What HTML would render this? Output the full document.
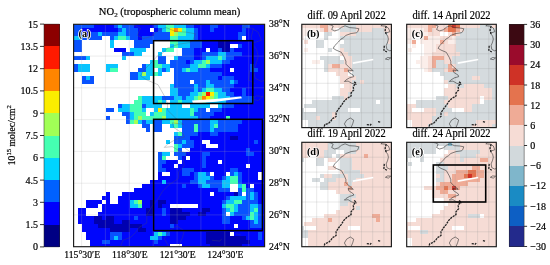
<!DOCTYPE html>
<html><head><meta charset="utf-8"><title>NO2 figure</title>
<style>html,body{margin:0;padding:0;background:#fff;}body{width:550px;height:265px;overflow:hidden;}.t{stroke:#000;stroke-width:.2px}</style></head>
<body>
<svg width="550" height="265" viewBox="0 0 550 265" style="display:block">
<rect width="550" height="265" fill="#fff"/>
<defs>
<clipPath id="cm"><rect x="73.6" y="24.3" width="191.0" height="222.4"/></clipPath>
<clipPath id="cb"><rect x="301.8" y="24.3" width="89.6" height="103.3"/></clipPath>
<clipPath id="cc"><rect x="406.7" y="24.3" width="89.6" height="103.3"/></clipPath>
<clipPath id="cd"><rect x="301.8" y="142.3" width="89.6" height="104.4"/></clipPath>
<clipPath id="ce"><rect x="406.7" y="142.3" width="89.6" height="104.4"/></clipPath>
</defs>
<g clip-path="url(#cm)" shape-rendering="crispEdges">
<rect x="74.0" y="24.0" width="20.3" height="4.3" fill="#0852ff"/>
<rect x="94.0" y="24.0" width="20.3" height="4.3" fill="#0006fc"/>
<rect x="114.0" y="24.0" width="4.3" height="4.3" fill="#0852ff"/>
<rect x="118.0" y="24.0" width="4.3" height="4.3" fill="#08c4ff"/>
<rect x="122.0" y="24.0" width="12.3" height="4.3" fill="#0852ff"/>
<rect x="134.0" y="24.0" width="20.3" height="4.3" fill="#0006fc"/>
<rect x="154.0" y="24.0" width="4.3" height="4.3" fill="#0852ff"/>
<rect x="158.0" y="24.0" width="8.3" height="4.3" fill="#08c4ff"/>
<rect x="166.0" y="24.0" width="8.3" height="4.3" fill="#45ffb2"/>
<rect x="174.0" y="24.0" width="12.3" height="4.3" fill="#08c4ff"/>
<rect x="186.0" y="24.0" width="8.3" height="4.3" fill="#0852ff"/>
<rect x="194.0" y="24.0" width="16.3" height="4.3" fill="#0006fc"/>
<rect x="210.0" y="24.0" width="8.3" height="4.3" fill="#0852ff"/>
<rect x="218.0" y="24.0" width="24.3" height="4.3" fill="#0006fc"/>
<rect x="242.0" y="24.0" width="8.3" height="4.3" fill="#0852ff"/>
<rect x="250.0" y="24.0" width="16.3" height="4.3" fill="#0006fc"/>
<rect x="74.0" y="28.0" width="8.3" height="4.3" fill="#0852ff"/>
<rect x="82.0" y="28.0" width="36.3" height="4.3" fill="#0006fc"/>
<rect x="118.0" y="28.0" width="4.3" height="4.3" fill="#0852ff"/>
<rect x="122.0" y="28.0" width="4.3" height="4.3" fill="#08c4ff"/>
<rect x="126.0" y="28.0" width="12.3" height="4.3" fill="#0852ff"/>
<rect x="138.0" y="28.0" width="12.3" height="4.3" fill="#0006fc"/>
<rect x="154.0" y="28.0" width="4.3" height="4.3" fill="#0006fc"/>
<rect x="158.0" y="28.0" width="4.3" height="4.3" fill="#0852ff"/>
<rect x="162.0" y="28.0" width="4.3" height="4.3" fill="#08c4ff"/>
<rect x="166.0" y="28.0" width="4.3" height="4.3" fill="#45ffb2"/>
<rect x="170.0" y="28.0" width="4.3" height="4.3" fill="#fbed00"/>
<rect x="174.0" y="28.0" width="4.3" height="4.3" fill="#ff8500"/>
<rect x="178.0" y="28.0" width="4.3" height="4.3" fill="#fbed00"/>
<rect x="182.0" y="28.0" width="4.3" height="4.3" fill="#45ffb2"/>
<rect x="186.0" y="28.0" width="8.3" height="4.3" fill="#08c4ff"/>
<rect x="194.0" y="28.0" width="4.3" height="4.3" fill="#0852ff"/>
<rect x="198.0" y="28.0" width="12.3" height="4.3" fill="#0006fc"/>
<rect x="210.0" y="28.0" width="4.3" height="4.3" fill="#0852ff"/>
<rect x="214.0" y="28.0" width="28.3" height="4.3" fill="#0006fc"/>
<rect x="242.0" y="28.0" width="4.3" height="4.3" fill="#0852ff"/>
<rect x="246.0" y="28.0" width="20.3" height="4.3" fill="#0006fc"/>
<rect x="74.0" y="32.0" width="8.3" height="4.3" fill="#0852ff"/>
<rect x="82.0" y="32.0" width="8.3" height="4.3" fill="#0006fc"/>
<rect x="90.0" y="32.0" width="8.3" height="4.3" fill="#0852ff"/>
<rect x="98.0" y="32.0" width="4.3" height="4.3" fill="#08c4ff"/>
<rect x="102.0" y="32.0" width="16.3" height="4.3" fill="#0852ff"/>
<rect x="118.0" y="32.0" width="8.3" height="4.3" fill="#08c4ff"/>
<rect x="126.0" y="32.0" width="12.3" height="4.3" fill="#0852ff"/>
<rect x="138.0" y="32.0" width="16.3" height="4.3" fill="#0006fc"/>
<rect x="154.0" y="32.0" width="16.3" height="4.3" fill="#0852ff"/>
<rect x="170.0" y="32.0" width="4.3" height="4.3" fill="#fbed00"/>
<rect x="174.0" y="32.0" width="4.3" height="4.3" fill="#a1ff56"/>
<rect x="178.0" y="32.0" width="8.3" height="4.3" fill="#45ffb2"/>
<rect x="186.0" y="32.0" width="8.3" height="4.3" fill="#08c4ff"/>
<rect x="194.0" y="32.0" width="4.3" height="4.3" fill="#0852ff"/>
<rect x="198.0" y="32.0" width="40.3" height="4.3" fill="#0006fc"/>
<rect x="238.0" y="32.0" width="8.3" height="4.3" fill="#0852ff"/>
<rect x="246.0" y="32.0" width="20.3" height="4.3" fill="#0006fc"/>
<rect x="74.0" y="36.0" width="8.3" height="4.3" fill="#08c4ff"/>
<rect x="82.0" y="36.0" width="20.3" height="4.3" fill="#0852ff"/>
<rect x="110.0" y="36.0" width="4.3" height="4.3" fill="#0852ff"/>
<rect x="114.0" y="36.0" width="4.3" height="4.3" fill="#08c4ff"/>
<rect x="118.0" y="36.0" width="8.3" height="4.3" fill="#45ffb2"/>
<rect x="126.0" y="36.0" width="4.3" height="4.3" fill="#08c4ff"/>
<rect x="130.0" y="36.0" width="8.3" height="4.3" fill="#0852ff"/>
<rect x="138.0" y="36.0" width="4.3" height="4.3" fill="#0006fc"/>
<rect x="142.0" y="36.0" width="28.3" height="4.3" fill="#0852ff"/>
<rect x="170.0" y="36.0" width="8.3" height="4.3" fill="#45ffb2"/>
<rect x="178.0" y="36.0" width="16.3" height="4.3" fill="#08c4ff"/>
<rect x="194.0" y="36.0" width="4.3" height="4.3" fill="#0852ff"/>
<rect x="198.0" y="36.0" width="40.3" height="4.3" fill="#0006fc"/>
<rect x="238.0" y="36.0" width="4.3" height="4.3" fill="#0852ff"/>
<rect x="246.0" y="36.0" width="20.3" height="4.3" fill="#0006fc"/>
<rect x="74.0" y="40.0" width="8.3" height="4.3" fill="#0852ff"/>
<rect x="110.0" y="40.0" width="4.3" height="4.3" fill="#08c4ff"/>
<rect x="134.0" y="40.0" width="20.3" height="4.3" fill="#0852ff"/>
<rect x="170.0" y="40.0" width="8.3" height="4.3" fill="#45ffb2"/>
<rect x="178.0" y="40.0" width="12.3" height="4.3" fill="#08c4ff"/>
<rect x="190.0" y="40.0" width="12.3" height="4.3" fill="#0852ff"/>
<rect x="202.0" y="40.0" width="16.3" height="4.3" fill="#0006fc"/>
<rect x="218.0" y="40.0" width="12.3" height="4.3" fill="#0000b0"/>
<rect x="230.0" y="40.0" width="36.3" height="4.3" fill="#0006fc"/>
<rect x="74.0" y="44.0" width="8.3" height="4.3" fill="#0852ff"/>
<rect x="110.0" y="44.0" width="4.3" height="4.3" fill="#08c4ff"/>
<rect x="134.0" y="44.0" width="16.3" height="4.3" fill="#0852ff"/>
<rect x="170.0" y="44.0" width="4.3" height="4.3" fill="#08c4ff"/>
<rect x="174.0" y="44.0" width="4.3" height="4.3" fill="#45ffb2"/>
<rect x="178.0" y="44.0" width="12.3" height="4.3" fill="#08c4ff"/>
<rect x="190.0" y="44.0" width="12.3" height="4.3" fill="#0852ff"/>
<rect x="202.0" y="44.0" width="16.3" height="4.3" fill="#0006fc"/>
<rect x="218.0" y="44.0" width="12.3" height="4.3" fill="#0000b0"/>
<rect x="238.0" y="44.0" width="4.3" height="4.3" fill="#0852ff"/>
<rect x="242.0" y="44.0" width="24.3" height="4.3" fill="#0006fc"/>
<rect x="74.0" y="48.0" width="8.3" height="4.3" fill="#0852ff"/>
<rect x="114.0" y="48.0" width="12.3" height="4.3" fill="#0006fc"/>
<rect x="130.0" y="48.0" width="16.3" height="4.3" fill="#08c4ff"/>
<rect x="162.0" y="48.0" width="4.3" height="4.3" fill="#08c4ff"/>
<rect x="166.0" y="48.0" width="8.3" height="4.3" fill="#45ffb2"/>
<rect x="182.0" y="48.0" width="12.3" height="4.3" fill="#0852ff"/>
<rect x="194.0" y="48.0" width="12.3" height="4.3" fill="#0006fc"/>
<rect x="210.0" y="48.0" width="8.3" height="4.3" fill="#0006fc"/>
<rect x="218.0" y="48.0" width="4.3" height="4.3" fill="#0852ff"/>
<rect x="222.0" y="48.0" width="8.3" height="4.3" fill="#0000b0"/>
<rect x="230.0" y="48.0" width="4.3" height="4.3" fill="#0852ff"/>
<rect x="234.0" y="48.0" width="32.3" height="4.3" fill="#0006fc"/>
<rect x="122.0" y="52.0" width="12.3" height="4.3" fill="#0852ff"/>
<rect x="134.0" y="52.0" width="8.3" height="4.3" fill="#08c4ff"/>
<rect x="158.0" y="52.0" width="4.3" height="4.3" fill="#08c4ff"/>
<rect x="182.0" y="52.0" width="12.3" height="4.3" fill="#0852ff"/>
<rect x="194.0" y="52.0" width="8.3" height="4.3" fill="#0006fc"/>
<rect x="202.0" y="52.0" width="16.3" height="4.3" fill="#0852ff"/>
<rect x="218.0" y="52.0" width="8.3" height="4.3" fill="#08c4ff"/>
<rect x="226.0" y="52.0" width="16.3" height="4.3" fill="#0852ff"/>
<rect x="242.0" y="52.0" width="24.3" height="4.3" fill="#0006fc"/>
<rect x="74.0" y="56.0" width="12.3" height="4.3" fill="#0852ff"/>
<rect x="86.0" y="56.0" width="4.3" height="4.3" fill="#08c4ff"/>
<rect x="122.0" y="56.0" width="4.3" height="4.3" fill="#08c4ff"/>
<rect x="158.0" y="56.0" width="8.3" height="4.3" fill="#0852ff"/>
<rect x="174.0" y="56.0" width="4.3" height="4.3" fill="#08c4ff"/>
<rect x="178.0" y="56.0" width="16.3" height="4.3" fill="#0852ff"/>
<rect x="194.0" y="56.0" width="8.3" height="4.3" fill="#0006fc"/>
<rect x="202.0" y="56.0" width="4.3" height="4.3" fill="#0852ff"/>
<rect x="206.0" y="56.0" width="12.3" height="4.3" fill="#08c4ff"/>
<rect x="218.0" y="56.0" width="4.3" height="4.3" fill="#45ffb2"/>
<rect x="222.0" y="56.0" width="4.3" height="4.3" fill="#08c4ff"/>
<rect x="226.0" y="56.0" width="8.3" height="4.3" fill="#0852ff"/>
<rect x="234.0" y="56.0" width="32.3" height="4.3" fill="#0006fc"/>
<rect x="150.0" y="60.0" width="4.3" height="4.3" fill="#08c4ff"/>
<rect x="154.0" y="60.0" width="4.3" height="4.3" fill="#45ffb2"/>
<rect x="158.0" y="60.0" width="8.3" height="4.3" fill="#0852ff"/>
<rect x="170.0" y="60.0" width="16.3" height="4.3" fill="#0852ff"/>
<rect x="186.0" y="60.0" width="4.3" height="4.3" fill="#0006fc"/>
<rect x="190.0" y="60.0" width="4.3" height="4.3" fill="#0852ff"/>
<rect x="194.0" y="60.0" width="8.3" height="4.3" fill="#08c4ff"/>
<rect x="202.0" y="60.0" width="4.3" height="4.3" fill="#45ffb2"/>
<rect x="206.0" y="60.0" width="4.3" height="4.3" fill="#a1ff56"/>
<rect x="210.0" y="60.0" width="12.3" height="4.3" fill="#08c4ff"/>
<rect x="222.0" y="60.0" width="8.3" height="4.3" fill="#0852ff"/>
<rect x="230.0" y="60.0" width="36.3" height="4.3" fill="#0006fc"/>
<rect x="74.0" y="64.0" width="4.3" height="4.3" fill="#0852ff"/>
<rect x="78.0" y="64.0" width="12.3" height="4.3" fill="#08c4ff"/>
<rect x="106.0" y="64.0" width="12.3" height="4.3" fill="#08c4ff"/>
<rect x="142.0" y="64.0" width="4.3" height="4.3" fill="#0852ff"/>
<rect x="146.0" y="64.0" width="8.3" height="4.3" fill="#08c4ff"/>
<rect x="154.0" y="64.0" width="8.3" height="4.3" fill="#45ffb2"/>
<rect x="162.0" y="64.0" width="8.3" height="4.3" fill="#08c4ff"/>
<rect x="170.0" y="64.0" width="20.3" height="4.3" fill="#0852ff"/>
<rect x="190.0" y="64.0" width="8.3" height="4.3" fill="#08c4ff"/>
<rect x="198.0" y="64.0" width="8.3" height="4.3" fill="#45ffb2"/>
<rect x="206.0" y="64.0" width="4.3" height="4.3" fill="#08c4ff"/>
<rect x="210.0" y="64.0" width="12.3" height="4.3" fill="#0852ff"/>
<rect x="222.0" y="64.0" width="28.3" height="4.3" fill="#0006fc"/>
<rect x="250.0" y="64.0" width="4.3" height="4.3" fill="#0852ff"/>
<rect x="254.0" y="64.0" width="12.3" height="4.3" fill="#0006fc"/>
<rect x="74.0" y="68.0" width="4.3" height="4.3" fill="#0852ff"/>
<rect x="78.0" y="68.0" width="12.3" height="4.3" fill="#08c4ff"/>
<rect x="106.0" y="68.0" width="4.3" height="4.3" fill="#08c4ff"/>
<rect x="110.0" y="68.0" width="8.3" height="4.3" fill="#45ffb2"/>
<rect x="138.0" y="68.0" width="8.3" height="4.3" fill="#0852ff"/>
<rect x="146.0" y="68.0" width="8.3" height="4.3" fill="#08c4ff"/>
<rect x="158.0" y="68.0" width="4.3" height="4.3" fill="#08c4ff"/>
<rect x="162.0" y="68.0" width="4.3" height="4.3" fill="#0852ff"/>
<rect x="166.0" y="68.0" width="4.3" height="4.3" fill="#08c4ff"/>
<rect x="174.0" y="68.0" width="8.3" height="4.3" fill="#0852ff"/>
<rect x="182.0" y="68.0" width="4.3" height="4.3" fill="#08c4ff"/>
<rect x="186.0" y="68.0" width="4.3" height="4.3" fill="#45ffb2"/>
<rect x="190.0" y="68.0" width="8.3" height="4.3" fill="#08c4ff"/>
<rect x="198.0" y="68.0" width="12.3" height="4.3" fill="#0852ff"/>
<rect x="210.0" y="68.0" width="20.3" height="4.3" fill="#0006fc"/>
<rect x="234.0" y="68.0" width="16.3" height="4.3" fill="#0006fc"/>
<rect x="250.0" y="68.0" width="8.3" height="4.3" fill="#0852ff"/>
<rect x="258.0" y="68.0" width="8.3" height="4.3" fill="#0006fc"/>
<rect x="130.0" y="72.0" width="8.3" height="4.3" fill="#0852ff"/>
<rect x="138.0" y="72.0" width="4.3" height="4.3" fill="#08c4ff"/>
<rect x="142.0" y="72.0" width="4.3" height="4.3" fill="#a1ff56"/>
<rect x="146.0" y="72.0" width="8.3" height="4.3" fill="#08c4ff"/>
<rect x="154.0" y="72.0" width="4.3" height="4.3" fill="#45ffb2"/>
<rect x="158.0" y="72.0" width="4.3" height="4.3" fill="#08c4ff"/>
<rect x="174.0" y="72.0" width="48.3" height="4.3" fill="#0852ff"/>
<rect x="222.0" y="72.0" width="44.3" height="4.3" fill="#0006fc"/>
<rect x="82.0" y="76.0" width="4.3" height="4.3" fill="#0852ff"/>
<rect x="86.0" y="76.0" width="4.3" height="4.3" fill="#08c4ff"/>
<rect x="90.0" y="76.0" width="4.3" height="4.3" fill="#0852ff"/>
<rect x="130.0" y="76.0" width="8.3" height="4.3" fill="#0852ff"/>
<rect x="138.0" y="76.0" width="12.3" height="4.3" fill="#08c4ff"/>
<rect x="174.0" y="76.0" width="44.3" height="4.3" fill="#0852ff"/>
<rect x="218.0" y="76.0" width="4.3" height="4.3" fill="#0006fc"/>
<rect x="222.0" y="76.0" width="12.3" height="4.3" fill="#0852ff"/>
<rect x="234.0" y="76.0" width="32.3" height="4.3" fill="#0006fc"/>
<rect x="82.0" y="80.0" width="12.3" height="4.3" fill="#0852ff"/>
<rect x="174.0" y="80.0" width="16.3" height="4.3" fill="#0852ff"/>
<rect x="194.0" y="80.0" width="12.3" height="4.3" fill="#0852ff"/>
<rect x="206.0" y="80.0" width="4.3" height="4.3" fill="#08c4ff"/>
<rect x="210.0" y="80.0" width="20.3" height="4.3" fill="#0852ff"/>
<rect x="230.0" y="80.0" width="4.3" height="4.3" fill="#08c4ff"/>
<rect x="234.0" y="80.0" width="4.3" height="4.3" fill="#0852ff"/>
<rect x="238.0" y="80.0" width="28.3" height="4.3" fill="#0006fc"/>
<rect x="170.0" y="84.0" width="4.3" height="4.3" fill="#08c4ff"/>
<rect x="174.0" y="84.0" width="20.3" height="4.3" fill="#0852ff"/>
<rect x="194.0" y="84.0" width="4.3" height="4.3" fill="#08c4ff"/>
<rect x="198.0" y="84.0" width="8.3" height="4.3" fill="#0852ff"/>
<rect x="206.0" y="84.0" width="8.3" height="4.3" fill="#08c4ff"/>
<rect x="214.0" y="84.0" width="20.3" height="4.3" fill="#0852ff"/>
<rect x="234.0" y="84.0" width="32.3" height="4.3" fill="#0006fc"/>
<rect x="170.0" y="88.0" width="8.3" height="4.3" fill="#08c4ff"/>
<rect x="178.0" y="88.0" width="16.3" height="4.3" fill="#0852ff"/>
<rect x="194.0" y="88.0" width="4.3" height="4.3" fill="#08c4ff"/>
<rect x="198.0" y="88.0" width="4.3" height="4.3" fill="#0852ff"/>
<rect x="202.0" y="88.0" width="4.3" height="4.3" fill="#08c4ff"/>
<rect x="206.0" y="88.0" width="8.3" height="4.3" fill="#45ffb2"/>
<rect x="214.0" y="88.0" width="8.3" height="4.3" fill="#08c4ff"/>
<rect x="222.0" y="88.0" width="8.3" height="4.3" fill="#0852ff"/>
<rect x="230.0" y="88.0" width="12.3" height="4.3" fill="#0006fc"/>
<rect x="242.0" y="88.0" width="4.3" height="4.3" fill="#0852ff"/>
<rect x="246.0" y="88.0" width="20.3" height="4.3" fill="#0006fc"/>
<rect x="170.0" y="92.0" width="8.3" height="4.3" fill="#08c4ff"/>
<rect x="178.0" y="92.0" width="12.3" height="4.3" fill="#0852ff"/>
<rect x="190.0" y="92.0" width="8.3" height="4.3" fill="#08c4ff"/>
<rect x="198.0" y="92.0" width="4.3" height="4.3" fill="#45ffb2"/>
<rect x="202.0" y="92.0" width="4.3" height="4.3" fill="#a1ff56"/>
<rect x="206.0" y="92.0" width="4.3" height="4.3" fill="#ff1a00"/>
<rect x="210.0" y="92.0" width="4.3" height="4.3" fill="#fbed00"/>
<rect x="214.0" y="92.0" width="4.3" height="4.3" fill="#45ffb2"/>
<rect x="218.0" y="92.0" width="8.3" height="4.3" fill="#08c4ff"/>
<rect x="226.0" y="92.0" width="8.3" height="4.3" fill="#0852ff"/>
<rect x="234.0" y="92.0" width="8.3" height="4.3" fill="#0006fc"/>
<rect x="242.0" y="92.0" width="4.3" height="4.3" fill="#0852ff"/>
<rect x="246.0" y="92.0" width="20.3" height="4.3" fill="#0006fc"/>
<rect x="138.0" y="96.0" width="4.3" height="4.3" fill="#45ffb2"/>
<rect x="142.0" y="96.0" width="20.3" height="4.3" fill="#08c4ff"/>
<rect x="162.0" y="96.0" width="12.3" height="4.3" fill="#0852ff"/>
<rect x="174.0" y="96.0" width="8.3" height="4.3" fill="#08c4ff"/>
<rect x="182.0" y="96.0" width="4.3" height="4.3" fill="#0852ff"/>
<rect x="186.0" y="96.0" width="8.3" height="4.3" fill="#08c4ff"/>
<rect x="194.0" y="96.0" width="4.3" height="4.3" fill="#45ffb2"/>
<rect x="198.0" y="96.0" width="4.3" height="4.3" fill="#a1ff56"/>
<rect x="202.0" y="96.0" width="4.3" height="4.3" fill="#ff8500"/>
<rect x="206.0" y="96.0" width="4.3" height="4.3" fill="#fbed00"/>
<rect x="210.0" y="96.0" width="4.3" height="4.3" fill="#a1ff56"/>
<rect x="214.0" y="96.0" width="4.3" height="4.3" fill="#45ffb2"/>
<rect x="218.0" y="96.0" width="12.3" height="4.3" fill="#08c4ff"/>
<rect x="230.0" y="96.0" width="24.3" height="4.3" fill="#0852ff"/>
<rect x="254.0" y="96.0" width="12.3" height="4.3" fill="#0006fc"/>
<rect x="134.0" y="100.0" width="8.3" height="4.3" fill="#45ffb2"/>
<rect x="142.0" y="100.0" width="16.3" height="4.3" fill="#08c4ff"/>
<rect x="158.0" y="100.0" width="4.3" height="4.3" fill="#45ffb2"/>
<rect x="162.0" y="100.0" width="4.3" height="4.3" fill="#08c4ff"/>
<rect x="170.0" y="100.0" width="8.3" height="4.3" fill="#08c4ff"/>
<rect x="178.0" y="100.0" width="4.3" height="4.3" fill="#45ffb2"/>
<rect x="182.0" y="100.0" width="12.3" height="4.3" fill="#08c4ff"/>
<rect x="194.0" y="100.0" width="12.3" height="4.3" fill="#45ffb2"/>
<rect x="206.0" y="100.0" width="20.3" height="4.3" fill="#08c4ff"/>
<rect x="226.0" y="100.0" width="28.3" height="4.3" fill="#0852ff"/>
<rect x="254.0" y="100.0" width="12.3" height="4.3" fill="#0006fc"/>
<rect x="118.0" y="104.0" width="4.3" height="4.3" fill="#0852ff"/>
<rect x="122.0" y="104.0" width="8.3" height="4.3" fill="#08c4ff"/>
<rect x="130.0" y="104.0" width="12.3" height="4.3" fill="#45ffb2"/>
<rect x="142.0" y="104.0" width="4.3" height="4.3" fill="#0852ff"/>
<rect x="146.0" y="104.0" width="16.3" height="4.3" fill="#08c4ff"/>
<rect x="170.0" y="104.0" width="12.3" height="4.3" fill="#08c4ff"/>
<rect x="190.0" y="104.0" width="20.3" height="4.3" fill="#08c4ff"/>
<rect x="218.0" y="104.0" width="4.3" height="4.3" fill="#08c4ff"/>
<rect x="222.0" y="104.0" width="12.3" height="4.3" fill="#0852ff"/>
<rect x="234.0" y="104.0" width="32.3" height="4.3" fill="#0006fc"/>
<rect x="106.0" y="108.0" width="8.3" height="4.3" fill="#0852ff"/>
<rect x="118.0" y="108.0" width="12.3" height="4.3" fill="#08c4ff"/>
<rect x="130.0" y="108.0" width="12.3" height="4.3" fill="#45ffb2"/>
<rect x="142.0" y="108.0" width="4.3" height="4.3" fill="#08c4ff"/>
<rect x="154.0" y="108.0" width="4.3" height="4.3" fill="#08c4ff"/>
<rect x="158.0" y="108.0" width="4.3" height="4.3" fill="#fbed00"/>
<rect x="162.0" y="108.0" width="4.3" height="4.3" fill="#45ffb2"/>
<rect x="166.0" y="108.0" width="24.3" height="4.3" fill="#08c4ff"/>
<rect x="190.0" y="108.0" width="4.3" height="4.3" fill="#45ffb2"/>
<rect x="194.0" y="108.0" width="4.3" height="4.3" fill="#08c4ff"/>
<rect x="198.0" y="108.0" width="8.3" height="4.3" fill="#0852ff"/>
<rect x="210.0" y="108.0" width="12.3" height="4.3" fill="#0852ff"/>
<rect x="222.0" y="108.0" width="44.3" height="4.3" fill="#0006fc"/>
<rect x="122.0" y="112.0" width="8.3" height="4.3" fill="#0852ff"/>
<rect x="130.0" y="112.0" width="4.3" height="4.3" fill="#08c4ff"/>
<rect x="134.0" y="112.0" width="12.3" height="4.3" fill="#45ffb2"/>
<rect x="150.0" y="112.0" width="4.3" height="4.3" fill="#08c4ff"/>
<rect x="154.0" y="112.0" width="12.3" height="4.3" fill="#45ffb2"/>
<rect x="166.0" y="112.0" width="24.3" height="4.3" fill="#08c4ff"/>
<rect x="190.0" y="112.0" width="4.3" height="4.3" fill="#45ffb2"/>
<rect x="194.0" y="112.0" width="20.3" height="4.3" fill="#0852ff"/>
<rect x="214.0" y="112.0" width="52.3" height="4.3" fill="#0006fc"/>
<rect x="106.0" y="116.0" width="4.3" height="4.3" fill="#0852ff"/>
<rect x="126.0" y="116.0" width="4.3" height="4.3" fill="#0852ff"/>
<rect x="130.0" y="116.0" width="4.3" height="4.3" fill="#08c4ff"/>
<rect x="134.0" y="116.0" width="4.3" height="4.3" fill="#45ffb2"/>
<rect x="138.0" y="116.0" width="4.3" height="4.3" fill="#a1ff56"/>
<rect x="142.0" y="116.0" width="20.3" height="4.3" fill="#45ffb2"/>
<rect x="162.0" y="116.0" width="4.3" height="4.3" fill="#a1ff56"/>
<rect x="166.0" y="116.0" width="32.3" height="4.3" fill="#08c4ff"/>
<rect x="198.0" y="116.0" width="12.3" height="4.3" fill="#0852ff"/>
<rect x="210.0" y="116.0" width="16.3" height="4.3" fill="#0006fc"/>
<rect x="226.0" y="116.0" width="4.3" height="4.3" fill="#45ffb2"/>
<rect x="230.0" y="116.0" width="36.3" height="4.3" fill="#0006fc"/>
<rect x="126.0" y="120.0" width="4.3" height="4.3" fill="#0852ff"/>
<rect x="130.0" y="120.0" width="4.3" height="4.3" fill="#45ffb2"/>
<rect x="134.0" y="120.0" width="4.3" height="4.3" fill="#a1ff56"/>
<rect x="138.0" y="120.0" width="4.3" height="4.3" fill="#08c4ff"/>
<rect x="142.0" y="120.0" width="4.3" height="4.3" fill="#0852ff"/>
<rect x="146.0" y="120.0" width="8.3" height="4.3" fill="#08c4ff"/>
<rect x="154.0" y="120.0" width="8.3" height="4.3" fill="#0852ff"/>
<rect x="162.0" y="120.0" width="8.3" height="4.3" fill="#08c4ff"/>
<rect x="170.0" y="120.0" width="4.3" height="4.3" fill="#45ffb2"/>
<rect x="174.0" y="120.0" width="4.3" height="4.3" fill="#a1ff56"/>
<rect x="178.0" y="120.0" width="4.3" height="4.3" fill="#08c4ff"/>
<rect x="182.0" y="120.0" width="28.3" height="4.3" fill="#0852ff"/>
<rect x="210.0" y="120.0" width="8.3" height="4.3" fill="#08c4ff"/>
<rect x="218.0" y="120.0" width="24.3" height="4.3" fill="#0852ff"/>
<rect x="242.0" y="120.0" width="24.3" height="4.3" fill="#0006fc"/>
<rect x="142.0" y="124.0" width="8.3" height="4.3" fill="#0852ff"/>
<rect x="154.0" y="124.0" width="8.3" height="4.3" fill="#0852ff"/>
<rect x="170.0" y="124.0" width="4.3" height="4.3" fill="#08c4ff"/>
<rect x="174.0" y="124.0" width="4.3" height="4.3" fill="#45ffb2"/>
<rect x="178.0" y="124.0" width="4.3" height="4.3" fill="#08c4ff"/>
<rect x="182.0" y="124.0" width="12.3" height="4.3" fill="#0852ff"/>
<rect x="194.0" y="124.0" width="4.3" height="4.3" fill="#45ffb2"/>
<rect x="198.0" y="124.0" width="12.3" height="4.3" fill="#0852ff"/>
<rect x="210.0" y="124.0" width="4.3" height="4.3" fill="#08c4ff"/>
<rect x="214.0" y="124.0" width="4.3" height="4.3" fill="#45ffb2"/>
<rect x="218.0" y="124.0" width="20.3" height="4.3" fill="#0852ff"/>
<rect x="238.0" y="124.0" width="28.3" height="4.3" fill="#0006fc"/>
<rect x="146.0" y="128.0" width="4.3" height="4.3" fill="#0852ff"/>
<rect x="154.0" y="128.0" width="8.3" height="4.3" fill="#0852ff"/>
<rect x="182.0" y="128.0" width="12.3" height="4.3" fill="#0852ff"/>
<rect x="194.0" y="128.0" width="4.3" height="4.3" fill="#45ffb2"/>
<rect x="198.0" y="128.0" width="12.3" height="4.3" fill="#0852ff"/>
<rect x="210.0" y="128.0" width="4.3" height="4.3" fill="#08c4ff"/>
<rect x="214.0" y="128.0" width="24.3" height="4.3" fill="#0852ff"/>
<rect x="238.0" y="128.0" width="28.3" height="4.3" fill="#0006fc"/>
<rect x="174.0" y="132.0" width="4.3" height="4.3" fill="#08c4ff"/>
<rect x="178.0" y="132.0" width="4.3" height="4.3" fill="#45ffb2"/>
<rect x="182.0" y="132.0" width="16.3" height="4.3" fill="#0852ff"/>
<rect x="198.0" y="132.0" width="12.3" height="4.3" fill="#0006fc"/>
<rect x="210.0" y="132.0" width="8.3" height="4.3" fill="#0852ff"/>
<rect x="218.0" y="132.0" width="48.3" height="4.3" fill="#0006fc"/>
<rect x="174.0" y="136.0" width="16.3" height="4.3" fill="#0852ff"/>
<rect x="190.0" y="136.0" width="40.3" height="4.3" fill="#0006fc"/>
<rect x="230.0" y="136.0" width="8.3" height="4.3" fill="#0000b0"/>
<rect x="238.0" y="136.0" width="28.3" height="4.3" fill="#0006fc"/>
<rect x="166.0" y="140.0" width="4.3" height="4.3" fill="#08c4ff"/>
<rect x="174.0" y="140.0" width="8.3" height="4.3" fill="#0852ff"/>
<rect x="182.0" y="140.0" width="4.3" height="4.3" fill="#08c4ff"/>
<rect x="186.0" y="140.0" width="8.3" height="4.3" fill="#0852ff"/>
<rect x="194.0" y="140.0" width="8.3" height="4.3" fill="#0006fc"/>
<rect x="210.0" y="140.0" width="44.3" height="4.3" fill="#0006fc"/>
<rect x="254.0" y="140.0" width="4.3" height="4.3" fill="#0852ff"/>
<rect x="258.0" y="140.0" width="8.3" height="4.3" fill="#0006fc"/>
<rect x="174.0" y="144.0" width="4.3" height="4.3" fill="#45ffb2"/>
<rect x="178.0" y="144.0" width="4.3" height="4.3" fill="#08c4ff"/>
<rect x="182.0" y="144.0" width="12.3" height="4.3" fill="#0852ff"/>
<rect x="194.0" y="144.0" width="12.3" height="4.3" fill="#0006fc"/>
<rect x="218.0" y="144.0" width="48.3" height="4.3" fill="#0006fc"/>
<rect x="174.0" y="148.0" width="4.3" height="4.3" fill="#45ffb2"/>
<rect x="178.0" y="148.0" width="4.3" height="4.3" fill="#0852ff"/>
<rect x="190.0" y="148.0" width="56.3" height="4.3" fill="#0006fc"/>
<rect x="246.0" y="148.0" width="4.3" height="4.3" fill="#0852ff"/>
<rect x="250.0" y="148.0" width="16.3" height="4.3" fill="#0006fc"/>
<rect x="158.0" y="152.0" width="4.3" height="4.3" fill="#0852ff"/>
<rect x="162.0" y="152.0" width="8.3" height="4.3" fill="#08c4ff"/>
<rect x="174.0" y="152.0" width="12.3" height="4.3" fill="#0852ff"/>
<rect x="186.0" y="152.0" width="16.3" height="4.3" fill="#0006fc"/>
<rect x="202.0" y="152.0" width="8.3" height="4.3" fill="#0852ff"/>
<rect x="210.0" y="152.0" width="36.3" height="4.3" fill="#0006fc"/>
<rect x="246.0" y="152.0" width="8.3" height="4.3" fill="#0852ff"/>
<rect x="254.0" y="152.0" width="12.3" height="4.3" fill="#0006fc"/>
<rect x="158.0" y="156.0" width="4.3" height="4.3" fill="#0852ff"/>
<rect x="162.0" y="156.0" width="4.3" height="4.3" fill="#45ffb2"/>
<rect x="178.0" y="156.0" width="4.3" height="4.3" fill="#0852ff"/>
<rect x="182.0" y="156.0" width="4.3" height="4.3" fill="#0006fc"/>
<rect x="190.0" y="156.0" width="12.3" height="4.3" fill="#0006fc"/>
<rect x="202.0" y="156.0" width="4.3" height="4.3" fill="#0852ff"/>
<rect x="206.0" y="156.0" width="60.3" height="4.3" fill="#0006fc"/>
<rect x="158.0" y="160.0" width="8.3" height="4.3" fill="#0852ff"/>
<rect x="166.0" y="160.0" width="12.3" height="4.3" fill="#0006fc"/>
<rect x="182.0" y="160.0" width="20.3" height="4.3" fill="#0006fc"/>
<rect x="202.0" y="160.0" width="4.3" height="4.3" fill="#0852ff"/>
<rect x="206.0" y="160.0" width="12.3" height="4.3" fill="#0006fc"/>
<rect x="222.0" y="160.0" width="44.3" height="4.3" fill="#0006fc"/>
<rect x="158.0" y="164.0" width="4.3" height="4.3" fill="#0852ff"/>
<rect x="162.0" y="164.0" width="12.3" height="4.3" fill="#0006fc"/>
<rect x="178.0" y="164.0" width="24.3" height="4.3" fill="#0006fc"/>
<rect x="202.0" y="164.0" width="4.3" height="4.3" fill="#0852ff"/>
<rect x="206.0" y="164.0" width="40.3" height="4.3" fill="#0006fc"/>
<rect x="250.0" y="164.0" width="16.3" height="4.3" fill="#0006fc"/>
<rect x="158.0" y="168.0" width="8.3" height="4.3" fill="#0852ff"/>
<rect x="166.0" y="168.0" width="16.3" height="4.3" fill="#0006fc"/>
<rect x="182.0" y="168.0" width="12.3" height="4.3" fill="#0852ff"/>
<rect x="194.0" y="168.0" width="36.3" height="4.3" fill="#0006fc"/>
<rect x="230.0" y="168.0" width="8.3" height="4.3" fill="#0852ff"/>
<rect x="238.0" y="168.0" width="28.3" height="4.3" fill="#0006fc"/>
<rect x="158.0" y="172.0" width="4.3" height="4.3" fill="#0006fc"/>
<rect x="170.0" y="172.0" width="12.3" height="4.3" fill="#0006fc"/>
<rect x="182.0" y="172.0" width="8.3" height="4.3" fill="#0852ff"/>
<rect x="190.0" y="172.0" width="4.3" height="4.3" fill="#0006fc"/>
<rect x="194.0" y="172.0" width="4.3" height="4.3" fill="#0852ff"/>
<rect x="198.0" y="172.0" width="8.3" height="4.3" fill="#08c4ff"/>
<rect x="206.0" y="172.0" width="4.3" height="4.3" fill="#0852ff"/>
<rect x="214.0" y="172.0" width="12.3" height="4.3" fill="#0006fc"/>
<rect x="230.0" y="172.0" width="4.3" height="4.3" fill="#0852ff"/>
<rect x="234.0" y="172.0" width="4.3" height="4.3" fill="#08c4ff"/>
<rect x="238.0" y="172.0" width="4.3" height="4.3" fill="#0852ff"/>
<rect x="242.0" y="172.0" width="16.3" height="4.3" fill="#0006fc"/>
<rect x="262.0" y="172.0" width="4.3" height="4.3" fill="#0006fc"/>
<rect x="158.0" y="176.0" width="36.3" height="4.3" fill="#0006fc"/>
<rect x="194.0" y="176.0" width="4.3" height="4.3" fill="#0852ff"/>
<rect x="198.0" y="176.0" width="12.3" height="4.3" fill="#08c4ff"/>
<rect x="210.0" y="176.0" width="4.3" height="4.3" fill="#0852ff"/>
<rect x="214.0" y="176.0" width="8.3" height="4.3" fill="#0006fc"/>
<rect x="222.0" y="176.0" width="4.3" height="4.3" fill="#0852ff"/>
<rect x="226.0" y="176.0" width="4.3" height="4.3" fill="#08c4ff"/>
<rect x="230.0" y="176.0" width="8.3" height="4.3" fill="#45ffb2"/>
<rect x="238.0" y="176.0" width="4.3" height="4.3" fill="#0852ff"/>
<rect x="242.0" y="176.0" width="16.3" height="4.3" fill="#0006fc"/>
<rect x="262.0" y="176.0" width="4.3" height="4.3" fill="#0006fc"/>
<rect x="150.0" y="180.0" width="12.3" height="4.3" fill="#0006fc"/>
<rect x="162.0" y="180.0" width="4.3" height="4.3" fill="#08c4ff"/>
<rect x="166.0" y="180.0" width="24.3" height="4.3" fill="#0006fc"/>
<rect x="190.0" y="180.0" width="8.3" height="4.3" fill="#0852ff"/>
<rect x="198.0" y="180.0" width="8.3" height="4.3" fill="#08c4ff"/>
<rect x="206.0" y="180.0" width="16.3" height="4.3" fill="#0852ff"/>
<rect x="222.0" y="180.0" width="8.3" height="4.3" fill="#08c4ff"/>
<rect x="230.0" y="180.0" width="8.3" height="4.3" fill="#45ffb2"/>
<rect x="238.0" y="180.0" width="4.3" height="4.3" fill="#0852ff"/>
<rect x="242.0" y="180.0" width="24.3" height="4.3" fill="#0006fc"/>
<rect x="142.0" y="184.0" width="40.3" height="4.3" fill="#0006fc"/>
<rect x="182.0" y="184.0" width="4.3" height="4.3" fill="#0852ff"/>
<rect x="186.0" y="184.0" width="12.3" height="4.3" fill="#0006fc"/>
<rect x="198.0" y="184.0" width="4.3" height="4.3" fill="#0852ff"/>
<rect x="202.0" y="184.0" width="8.3" height="4.3" fill="#08c4ff"/>
<rect x="210.0" y="184.0" width="12.3" height="4.3" fill="#0852ff"/>
<rect x="222.0" y="184.0" width="8.3" height="4.3" fill="#08c4ff"/>
<rect x="238.0" y="184.0" width="4.3" height="4.3" fill="#08c4ff"/>
<rect x="242.0" y="184.0" width="4.3" height="4.3" fill="#45ffb2"/>
<rect x="246.0" y="184.0" width="4.3" height="4.3" fill="#0006fc"/>
<rect x="254.0" y="184.0" width="12.3" height="4.3" fill="#0006fc"/>
<rect x="134.0" y="188.0" width="84.3" height="4.3" fill="#0006fc"/>
<rect x="218.0" y="188.0" width="12.3" height="4.3" fill="#0852ff"/>
<rect x="238.0" y="188.0" width="4.3" height="4.3" fill="#0852ff"/>
<rect x="242.0" y="188.0" width="4.3" height="4.3" fill="#45ffb2"/>
<rect x="246.0" y="188.0" width="8.3" height="4.3" fill="#0852ff"/>
<rect x="254.0" y="188.0" width="12.3" height="4.3" fill="#0006fc"/>
<rect x="106.0" y="192.0" width="4.3" height="4.3" fill="#0006fc"/>
<rect x="122.0" y="192.0" width="88.3" height="4.3" fill="#0006fc"/>
<rect x="214.0" y="192.0" width="20.3" height="4.3" fill="#0006fc"/>
<rect x="234.0" y="192.0" width="4.3" height="4.3" fill="#0000b0"/>
<rect x="238.0" y="192.0" width="4.3" height="4.3" fill="#0852ff"/>
<rect x="246.0" y="192.0" width="4.3" height="4.3" fill="#0852ff"/>
<rect x="250.0" y="192.0" width="4.3" height="4.3" fill="#08c4ff"/>
<rect x="254.0" y="192.0" width="4.3" height="4.3" fill="#0852ff"/>
<rect x="258.0" y="192.0" width="8.3" height="4.3" fill="#0006fc"/>
<rect x="102.0" y="196.0" width="8.3" height="4.3" fill="#0006fc"/>
<rect x="118.0" y="196.0" width="108.3" height="4.3" fill="#0006fc"/>
<rect x="226.0" y="196.0" width="4.3" height="4.3" fill="#0852ff"/>
<rect x="230.0" y="196.0" width="16.3" height="4.3" fill="#08c4ff"/>
<rect x="246.0" y="196.0" width="4.3" height="4.3" fill="#0852ff"/>
<rect x="250.0" y="196.0" width="4.3" height="4.3" fill="#08c4ff"/>
<rect x="254.0" y="196.0" width="4.3" height="4.3" fill="#0852ff"/>
<rect x="258.0" y="196.0" width="8.3" height="4.3" fill="#0006fc"/>
<rect x="86.0" y="200.0" width="16.3" height="4.3" fill="#0006fc"/>
<rect x="106.0" y="200.0" width="4.3" height="4.3" fill="#0006fc"/>
<rect x="118.0" y="200.0" width="12.3" height="4.3" fill="#0006fc"/>
<rect x="130.0" y="200.0" width="4.3" height="4.3" fill="#08c4ff"/>
<rect x="134.0" y="200.0" width="4.3" height="4.3" fill="#45ffb2"/>
<rect x="138.0" y="200.0" width="4.3" height="4.3" fill="#a1ff56"/>
<rect x="142.0" y="200.0" width="8.3" height="4.3" fill="#0006fc"/>
<rect x="150.0" y="200.0" width="4.3" height="4.3" fill="#0000b0"/>
<rect x="154.0" y="200.0" width="4.3" height="4.3" fill="#0006fc"/>
<rect x="158.0" y="200.0" width="8.3" height="4.3" fill="#0000b0"/>
<rect x="166.0" y="200.0" width="56.3" height="4.3" fill="#0006fc"/>
<rect x="222.0" y="200.0" width="4.3" height="4.3" fill="#0852ff"/>
<rect x="226.0" y="200.0" width="8.3" height="4.3" fill="#08c4ff"/>
<rect x="234.0" y="200.0" width="8.3" height="4.3" fill="#45ffb2"/>
<rect x="242.0" y="200.0" width="16.3" height="4.3" fill="#0852ff"/>
<rect x="258.0" y="200.0" width="8.3" height="4.3" fill="#0006fc"/>
<rect x="86.0" y="204.0" width="12.3" height="4.3" fill="#0006fc"/>
<rect x="102.0" y="204.0" width="28.3" height="4.3" fill="#0006fc"/>
<rect x="130.0" y="204.0" width="8.3" height="4.3" fill="#08c4ff"/>
<rect x="138.0" y="204.0" width="4.3" height="4.3" fill="#45ffb2"/>
<rect x="142.0" y="204.0" width="8.3" height="4.3" fill="#0006fc"/>
<rect x="150.0" y="204.0" width="4.3" height="4.3" fill="#0000b0"/>
<rect x="154.0" y="204.0" width="4.3" height="4.3" fill="#0006fc"/>
<rect x="158.0" y="204.0" width="4.3" height="4.3" fill="#0000b0"/>
<rect x="162.0" y="204.0" width="8.3" height="4.3" fill="#0006fc"/>
<rect x="198.0" y="204.0" width="24.3" height="4.3" fill="#0006fc"/>
<rect x="222.0" y="204.0" width="4.3" height="4.3" fill="#08c4ff"/>
<rect x="226.0" y="204.0" width="8.3" height="4.3" fill="#45ffb2"/>
<rect x="234.0" y="204.0" width="4.3" height="4.3" fill="#08c4ff"/>
<rect x="238.0" y="204.0" width="12.3" height="4.3" fill="#0852ff"/>
<rect x="250.0" y="204.0" width="8.3" height="4.3" fill="#08c4ff"/>
<rect x="258.0" y="204.0" width="4.3" height="4.3" fill="#0852ff"/>
<rect x="262.0" y="204.0" width="4.3" height="4.3" fill="#0006fc"/>
<rect x="78.0" y="208.0" width="8.3" height="4.3" fill="#0006fc"/>
<rect x="102.0" y="208.0" width="44.3" height="4.3" fill="#0006fc"/>
<rect x="146.0" y="208.0" width="8.3" height="4.3" fill="#0000b0"/>
<rect x="154.0" y="208.0" width="8.3" height="4.3" fill="#0006fc"/>
<rect x="162.0" y="208.0" width="4.3" height="4.3" fill="#0852ff"/>
<rect x="166.0" y="208.0" width="4.3" height="4.3" fill="#0006fc"/>
<rect x="170.0" y="208.0" width="12.3" height="4.3" fill="#0000b0"/>
<rect x="182.0" y="208.0" width="20.3" height="4.3" fill="#0006fc"/>
<rect x="202.0" y="208.0" width="8.3" height="4.3" fill="#0000b0"/>
<rect x="210.0" y="208.0" width="12.3" height="4.3" fill="#0006fc"/>
<rect x="222.0" y="208.0" width="4.3" height="4.3" fill="#0852ff"/>
<rect x="226.0" y="208.0" width="4.3" height="4.3" fill="#08c4ff"/>
<rect x="230.0" y="208.0" width="4.3" height="4.3" fill="#45ffb2"/>
<rect x="234.0" y="208.0" width="4.3" height="4.3" fill="#08c4ff"/>
<rect x="238.0" y="208.0" width="12.3" height="4.3" fill="#0852ff"/>
<rect x="250.0" y="208.0" width="4.3" height="4.3" fill="#08c4ff"/>
<rect x="254.0" y="208.0" width="4.3" height="4.3" fill="#45ffb2"/>
<rect x="258.0" y="208.0" width="4.3" height="4.3" fill="#0852ff"/>
<rect x="262.0" y="208.0" width="4.3" height="4.3" fill="#0006fc"/>
<rect x="78.0" y="212.0" width="8.3" height="4.3" fill="#0006fc"/>
<rect x="98.0" y="212.0" width="48.3" height="4.3" fill="#0006fc"/>
<rect x="146.0" y="212.0" width="8.3" height="4.3" fill="#0000b0"/>
<rect x="154.0" y="212.0" width="8.3" height="4.3" fill="#0006fc"/>
<rect x="162.0" y="212.0" width="4.3" height="4.3" fill="#0852ff"/>
<rect x="166.0" y="212.0" width="4.3" height="4.3" fill="#0006fc"/>
<rect x="170.0" y="212.0" width="20.3" height="4.3" fill="#0000b0"/>
<rect x="190.0" y="212.0" width="8.3" height="4.3" fill="#0006fc"/>
<rect x="198.0" y="212.0" width="8.3" height="4.3" fill="#0000b0"/>
<rect x="206.0" y="212.0" width="16.3" height="4.3" fill="#0006fc"/>
<rect x="222.0" y="212.0" width="4.3" height="4.3" fill="#0852ff"/>
<rect x="230.0" y="212.0" width="4.3" height="4.3" fill="#08c4ff"/>
<rect x="234.0" y="212.0" width="16.3" height="4.3" fill="#0852ff"/>
<rect x="250.0" y="212.0" width="4.3" height="4.3" fill="#45ffb2"/>
<rect x="254.0" y="212.0" width="4.3" height="4.3" fill="#08c4ff"/>
<rect x="258.0" y="212.0" width="4.3" height="4.3" fill="#0852ff"/>
<rect x="262.0" y="212.0" width="4.3" height="4.3" fill="#0006fc"/>
<rect x="78.0" y="216.0" width="16.3" height="4.3" fill="#0006fc"/>
<rect x="94.0" y="216.0" width="8.3" height="4.3" fill="#0000b0"/>
<rect x="102.0" y="216.0" width="4.3" height="4.3" fill="#0006fc"/>
<rect x="106.0" y="216.0" width="8.3" height="4.3" fill="#0000b0"/>
<rect x="114.0" y="216.0" width="20.3" height="4.3" fill="#0006fc"/>
<rect x="134.0" y="216.0" width="4.3" height="4.3" fill="#0852ff"/>
<rect x="138.0" y="216.0" width="32.3" height="4.3" fill="#0006fc"/>
<rect x="170.0" y="216.0" width="16.3" height="4.3" fill="#0000b0"/>
<rect x="186.0" y="216.0" width="36.3" height="4.3" fill="#0006fc"/>
<rect x="222.0" y="216.0" width="8.3" height="4.3" fill="#0852ff"/>
<rect x="230.0" y="216.0" width="12.3" height="4.3" fill="#0006fc"/>
<rect x="242.0" y="216.0" width="4.3" height="4.3" fill="#0852ff"/>
<rect x="246.0" y="216.0" width="4.3" height="4.3" fill="#08c4ff"/>
<rect x="250.0" y="216.0" width="4.3" height="4.3" fill="#45ffb2"/>
<rect x="254.0" y="216.0" width="4.3" height="4.3" fill="#08c4ff"/>
<rect x="258.0" y="216.0" width="4.3" height="4.3" fill="#0852ff"/>
<rect x="262.0" y="216.0" width="4.3" height="4.3" fill="#0006fc"/>
<rect x="78.0" y="220.0" width="16.3" height="4.3" fill="#0006fc"/>
<rect x="94.0" y="220.0" width="20.3" height="4.3" fill="#0000b0"/>
<rect x="114.0" y="220.0" width="8.3" height="4.3" fill="#0006fc"/>
<rect x="122.0" y="220.0" width="8.3" height="4.3" fill="#0000b0"/>
<rect x="130.0" y="220.0" width="40.3" height="4.3" fill="#0006fc"/>
<rect x="170.0" y="220.0" width="8.3" height="4.3" fill="#0000b0"/>
<rect x="178.0" y="220.0" width="44.3" height="4.3" fill="#0006fc"/>
<rect x="222.0" y="220.0" width="8.3" height="4.3" fill="#0852ff"/>
<rect x="230.0" y="220.0" width="20.3" height="4.3" fill="#0006fc"/>
<rect x="250.0" y="220.0" width="4.3" height="4.3" fill="#0852ff"/>
<rect x="254.0" y="220.0" width="4.3" height="4.3" fill="#08c4ff"/>
<rect x="258.0" y="220.0" width="4.3" height="4.3" fill="#0852ff"/>
<rect x="262.0" y="220.0" width="4.3" height="4.3" fill="#0006fc"/>
<rect x="82.0" y="224.0" width="16.3" height="4.3" fill="#0006fc"/>
<rect x="98.0" y="224.0" width="44.3" height="4.3" fill="#0000b0"/>
<rect x="142.0" y="224.0" width="28.3" height="4.3" fill="#0006fc"/>
<rect x="170.0" y="224.0" width="4.3" height="4.3" fill="#0852ff"/>
<rect x="174.0" y="224.0" width="60.3" height="4.3" fill="#0006fc"/>
<rect x="238.0" y="224.0" width="12.3" height="4.3" fill="#0006fc"/>
<rect x="250.0" y="224.0" width="12.3" height="4.3" fill="#0852ff"/>
<rect x="262.0" y="224.0" width="4.3" height="4.3" fill="#0006fc"/>
<rect x="82.0" y="228.0" width="28.3" height="4.3" fill="#0006fc"/>
<rect x="110.0" y="228.0" width="20.3" height="4.3" fill="#0000b0"/>
<rect x="130.0" y="228.0" width="8.3" height="4.3" fill="#0006fc"/>
<rect x="138.0" y="228.0" width="8.3" height="4.3" fill="#0000b0"/>
<rect x="146.0" y="228.0" width="120.3" height="4.3" fill="#0006fc"/>
<rect x="86.0" y="232.0" width="24.3" height="4.3" fill="#0006fc"/>
<rect x="110.0" y="232.0" width="12.3" height="4.3" fill="#0852ff"/>
<rect x="122.0" y="232.0" width="32.3" height="4.3" fill="#0006fc"/>
<rect x="154.0" y="232.0" width="4.3" height="4.3" fill="#08c4ff"/>
<rect x="158.0" y="232.0" width="4.3" height="4.3" fill="#45ffb2"/>
<rect x="162.0" y="232.0" width="4.3" height="4.3" fill="#08c4ff"/>
<rect x="166.0" y="232.0" width="4.3" height="4.3" fill="#0852ff"/>
<rect x="170.0" y="232.0" width="36.3" height="4.3" fill="#0006fc"/>
<rect x="206.0" y="232.0" width="24.3" height="4.3" fill="#0000b0"/>
<rect x="234.0" y="232.0" width="24.3" height="4.3" fill="#0006fc"/>
<rect x="258.0" y="232.0" width="4.3" height="4.3" fill="#0852ff"/>
<rect x="262.0" y="232.0" width="4.3" height="4.3" fill="#0006fc"/>
<rect x="86.0" y="236.0" width="24.3" height="4.3" fill="#0006fc"/>
<rect x="110.0" y="236.0" width="4.3" height="4.3" fill="#0852ff"/>
<rect x="114.0" y="236.0" width="4.3" height="4.3" fill="#08c4ff"/>
<rect x="118.0" y="236.0" width="4.3" height="4.3" fill="#0852ff"/>
<rect x="122.0" y="236.0" width="28.3" height="4.3" fill="#0006fc"/>
<rect x="150.0" y="236.0" width="8.3" height="4.3" fill="#08c4ff"/>
<rect x="158.0" y="236.0" width="4.3" height="4.3" fill="#0852ff"/>
<rect x="162.0" y="236.0" width="44.3" height="4.3" fill="#0006fc"/>
<rect x="206.0" y="236.0" width="40.3" height="4.3" fill="#0000b0"/>
<rect x="246.0" y="236.0" width="12.3" height="4.3" fill="#0006fc"/>
<rect x="258.0" y="236.0" width="4.3" height="4.3" fill="#0852ff"/>
<rect x="262.0" y="236.0" width="4.3" height="4.3" fill="#0006fc"/>
<rect x="90.0" y="240.0" width="12.3" height="4.3" fill="#0006fc"/>
<rect x="102.0" y="240.0" width="8.3" height="4.3" fill="#0852ff"/>
<rect x="110.0" y="240.0" width="44.3" height="4.3" fill="#0006fc"/>
<rect x="154.0" y="240.0" width="4.3" height="4.3" fill="#0852ff"/>
<rect x="158.0" y="240.0" width="48.3" height="4.3" fill="#0006fc"/>
<rect x="206.0" y="240.0" width="44.3" height="4.3" fill="#0000b0"/>
<rect x="250.0" y="240.0" width="16.3" height="4.3" fill="#0006fc"/>
<rect x="90.0" y="244.0" width="80.3" height="4.3" fill="#0006fc"/>
<rect x="182.0" y="244.0" width="28.3" height="4.3" fill="#0006fc"/>
<rect x="210.0" y="244.0" width="32.3" height="4.3" fill="#0000b0"/>
<rect x="242.0" y="244.0" width="24.3" height="4.3" fill="#0006fc"/>
</g>
<g clip-path="url(#cm)">
<line x1="81.6" y1="24.3" x2="81.6" y2="246.7" stroke="#b0b0b0" stroke-opacity="0.45" stroke-width="0.5"/>
<line x1="105.4" y1="24.3" x2="105.4" y2="246.7" stroke="#b0b0b0" stroke-opacity="0.45" stroke-width="0.5"/>
<line x1="129.3" y1="24.3" x2="129.3" y2="246.7" stroke="#b0b0b0" stroke-opacity="0.45" stroke-width="0.5"/>
<line x1="153.2" y1="24.3" x2="153.2" y2="246.7" stroke="#b0b0b0" stroke-opacity="0.45" stroke-width="0.5"/>
<line x1="177.1" y1="24.3" x2="177.1" y2="246.7" stroke="#b0b0b0" stroke-opacity="0.45" stroke-width="0.5"/>
<line x1="200.9" y1="24.3" x2="200.9" y2="246.7" stroke="#b0b0b0" stroke-opacity="0.45" stroke-width="0.5"/>
<line x1="224.8" y1="24.3" x2="224.8" y2="246.7" stroke="#b0b0b0" stroke-opacity="0.45" stroke-width="0.5"/>
<line x1="248.7" y1="24.3" x2="248.7" y2="246.7" stroke="#b0b0b0" stroke-opacity="0.45" stroke-width="0.5"/>
<line x1="73.6" y1="56.1" x2="264.6" y2="56.1" stroke="#b0b0b0" stroke-opacity="0.45" stroke-width="0.5"/>
<line x1="73.6" y1="87.8" x2="264.6" y2="87.8" stroke="#b0b0b0" stroke-opacity="0.45" stroke-width="0.5"/>
<line x1="73.6" y1="119.6" x2="264.6" y2="119.6" stroke="#b0b0b0" stroke-opacity="0.45" stroke-width="0.5"/>
<line x1="73.6" y1="151.4" x2="264.6" y2="151.4" stroke="#b0b0b0" stroke-opacity="0.45" stroke-width="0.5"/>
<line x1="73.6" y1="183.2" x2="264.6" y2="183.2" stroke="#b0b0b0" stroke-opacity="0.45" stroke-width="0.5"/>
<line x1="73.6" y1="214.9" x2="264.6" y2="214.9" stroke="#b0b0b0" stroke-opacity="0.45" stroke-width="0.5"/>
<polygon points="192,100.4 215,98.9 241,96.6 242,98.2 216,101.7 193,103.4" fill="#fff"/>
<polyline points="119.8,22.7 129.3,24.3 135.7,25.9 140.5,28.3 137.3,35.4 143.6,38.6 151.6,36.2 158.0,30.7 165.9,27.5 175.5,31.4 186.6,32.2 195.4,33.8 193.0,40.2 189.8,42.6 178.6,44.2 167.5,48.1 162.7,52.9 157.2,56.1 151.6,62.4 143.6,70.4 140.5,75.9 146.8,79.9 158.0,84.7 164.3,95.8 167.5,103.7 167.5,110.1 175.5,118.0 183.4,124.4 172.3,122.8 173.9,127.6 183.4,133.9 184.2,137.1 175.5,139.5 167.5,144.2 164.3,147.4 172.3,146.6 180.2,151.4 186.6,153.0" fill="none" stroke="#555" stroke-opacity="0.6" stroke-width="0.5"/>
<polyline points="248.7,22.7 242.3,27.5 251.9,28.3 258.2,32.2 261.4,40.2 251.9,43.4 256.6,49.7 258.2,56.1 256.6,62.4 253.5,70.4 255.1,78.3 261.4,81.5 267.8,78.3" fill="none" stroke="#555" stroke-opacity="0.6" stroke-width="0.5"/>
<polyline points="251.9,99.0 256.6,95.8 263.0,96.6 258.2,100.6 251.9,99.0" fill="none" stroke="#555" stroke-opacity="0.6" stroke-width="0.5"/>
<polyline points="169.1,246.7 164.3,238.8 169.1,230.8 177.1,226.0 184.2,230.8 182.6,237.2 178.6,246.7" fill="none" stroke="#555" stroke-opacity="0.6" stroke-width="0.5"/>
<polyline points="186.6,153.0 183.4,159.3 184.2,165.7 178.6,172.0 178.6,178.4 169.1,184.7 162.7,191.1 158.0,199.0 151.6,207.0 146.8,214.9 146.8,222.9 138.9,227.6 135.7,232.4 130.9,237.2 122.9,240.3 119.8,248.3" fill="none" stroke="#555" stroke-opacity="0.6" stroke-width="0.5"/>
<polyline points="185.0,148.2 189.8,151.4 188.2,154.6" fill="none" stroke="#555" stroke-opacity="0.6" stroke-width="0.5"/>
<polyline points="212.1,240.3 220.0,241.1 221.6,238.8" fill="none" stroke="#555" stroke-opacity="0.6" stroke-width="0.5"/>
<polyline points="236.0,234.0 240.7,234.8" fill="none" stroke="#555" stroke-opacity="0.6" stroke-width="0.5"/>
<polyline points="253.5,28.3 251.1,37.0 253.5,45.0" fill="none" stroke="#555" stroke-opacity="0.6" stroke-width="0.5"/>
<polyline points="249.5,70.4 248.7,79.9 255.1,83.9" fill="none" stroke="#555" stroke-opacity="0.6" stroke-width="0.5"/>
</g>
<rect x="153.6" y="40.7" width="99.2" height="62.8" fill="none" stroke="#000" stroke-width="1.5"/>
<rect x="153.6" y="119.3" width="108.8" height="111.3" fill="none" stroke="#000" stroke-width="1.5"/>
<rect x="73.6" y="24.3" width="191.0" height="222.4" fill="none" stroke="#1a1a1a" stroke-width="1.15"/>
<text x="78.6" y="36.5" font-family="'Liberation Serif','Times New Roman',serif" font-size="10.3" font-weight="bold" stroke="#fff" stroke-width="1.5" stroke-linejoin="round" fill="#000" style="paint-order:stroke fill">(a)</text>
<text x="169.6" y="14.5" font-family="'Liberation Serif','Times New Roman',serif" font-size="10.6" text-anchor="middle" fill="#000" class="t">NO<tspan dy="2.2" font-size="7">2</tspan><tspan dy="-2.2"> (tropospheric column mean)</tspan></text>
<text x="82.2" y="258.0" font-family="'Liberation Serif','Times New Roman',serif" font-size="9.7" text-anchor="middle" fill="#000" class="t">115°30′E</text>
<text x="129.9" y="258.0" font-family="'Liberation Serif','Times New Roman',serif" font-size="9.7" text-anchor="middle" fill="#000" class="t">118°30′E</text>
<text x="177.7" y="258.0" font-family="'Liberation Serif','Times New Roman',serif" font-size="9.7" text-anchor="middle" fill="#000" class="t">121°30′E</text>
<text x="225.4" y="258.0" font-family="'Liberation Serif','Times New Roman',serif" font-size="9.7" text-anchor="middle" fill="#000" class="t">124°30′E</text>
<text x="269.0" y="26.8" font-family="'Liberation Serif','Times New Roman',serif" font-size="9.8" fill="#000" class="t">38°N</text>
<text x="269.0" y="58.6" font-family="'Liberation Serif','Times New Roman',serif" font-size="9.8" fill="#000" class="t">36°N</text>
<text x="269.0" y="90.5" font-family="'Liberation Serif','Times New Roman',serif" font-size="9.8" fill="#000" class="t">34°N</text>
<text x="269.0" y="122.3" font-family="'Liberation Serif','Times New Roman',serif" font-size="9.8" fill="#000" class="t">32°N</text>
<text x="269.0" y="154.2" font-family="'Liberation Serif','Times New Roman',serif" font-size="9.8" fill="#000" class="t">30°N</text>
<text x="269.0" y="186.0" font-family="'Liberation Serif','Times New Roman',serif" font-size="9.8" fill="#000" class="t">28°N</text>
<text x="269.0" y="217.9" font-family="'Liberation Serif','Times New Roman',serif" font-size="9.8" fill="#000" class="t">26°N</text>
<text x="269.0" y="249.7" font-family="'Liberation Serif','Times New Roman',serif" font-size="9.8" fill="#000" class="t">24°N</text>
<rect x="44.0" y="24.10" width="15.7" height="22.58" fill="#8c0000" shape-rendering="crispEdges"/>
<rect x="44.0" y="46.38" width="15.7" height="22.58" fill="#ff1a00" shape-rendering="crispEdges"/>
<rect x="44.0" y="68.66" width="15.7" height="22.58" fill="#ff8500" shape-rendering="crispEdges"/>
<rect x="44.0" y="90.94" width="15.7" height="22.58" fill="#fbed00" shape-rendering="crispEdges"/>
<rect x="44.0" y="113.22" width="15.7" height="22.58" fill="#a1ff56" shape-rendering="crispEdges"/>
<rect x="44.0" y="135.50" width="15.7" height="22.58" fill="#45ffb2" shape-rendering="crispEdges"/>
<rect x="44.0" y="157.78" width="15.7" height="22.58" fill="#00d4ff" shape-rendering="crispEdges"/>
<rect x="44.0" y="180.06" width="15.7" height="22.58" fill="#0061ff" shape-rendering="crispEdges"/>
<rect x="44.0" y="202.34" width="15.7" height="22.58" fill="#0000fe" shape-rendering="crispEdges"/>
<rect x="44.0" y="224.62" width="15.7" height="22.58" fill="#000084" shape-rendering="crispEdges"/>
<rect x="44.0" y="24.1" width="15.7" height="222.8" fill="none" stroke="#222" stroke-width="0.5"/>
<line x1="40.0" y1="24.1" x2="44.0" y2="24.1" stroke="#000" stroke-width="0.8"/>
<text x="37.9" y="27.5" font-family="'Liberation Serif','Times New Roman',serif" font-size="10" text-anchor="end" fill="#000" class="t">15</text>
<line x1="40.0" y1="46.4" x2="44.0" y2="46.4" stroke="#000" stroke-width="0.8"/>
<text x="37.9" y="49.8" font-family="'Liberation Serif','Times New Roman',serif" font-size="10" text-anchor="end" fill="#000" class="t">13.5</text>
<line x1="40.0" y1="68.7" x2="44.0" y2="68.7" stroke="#000" stroke-width="0.8"/>
<text x="37.9" y="72.1" font-family="'Liberation Serif','Times New Roman',serif" font-size="10" text-anchor="end" fill="#000" class="t">12</text>
<line x1="40.0" y1="90.9" x2="44.0" y2="90.9" stroke="#000" stroke-width="0.8"/>
<text x="37.9" y="94.3" font-family="'Liberation Serif','Times New Roman',serif" font-size="10" text-anchor="end" fill="#000" class="t">10.5</text>
<line x1="40.0" y1="113.2" x2="44.0" y2="113.2" stroke="#000" stroke-width="0.8"/>
<text x="37.9" y="116.6" font-family="'Liberation Serif','Times New Roman',serif" font-size="10" text-anchor="end" fill="#000" class="t">9</text>
<line x1="40.0" y1="135.5" x2="44.0" y2="135.5" stroke="#000" stroke-width="0.8"/>
<text x="37.9" y="138.9" font-family="'Liberation Serif','Times New Roman',serif" font-size="10" text-anchor="end" fill="#000" class="t">7.5</text>
<line x1="40.0" y1="157.8" x2="44.0" y2="157.8" stroke="#000" stroke-width="0.8"/>
<text x="37.9" y="161.2" font-family="'Liberation Serif','Times New Roman',serif" font-size="10" text-anchor="end" fill="#000" class="t">6</text>
<line x1="40.0" y1="180.1" x2="44.0" y2="180.1" stroke="#000" stroke-width="0.8"/>
<text x="37.9" y="183.5" font-family="'Liberation Serif','Times New Roman',serif" font-size="10" text-anchor="end" fill="#000" class="t">4.5</text>
<line x1="40.0" y1="202.3" x2="44.0" y2="202.3" stroke="#000" stroke-width="0.8"/>
<text x="37.9" y="205.7" font-family="'Liberation Serif','Times New Roman',serif" font-size="10" text-anchor="end" fill="#000" class="t">3</text>
<line x1="40.0" y1="224.6" x2="44.0" y2="224.6" stroke="#000" stroke-width="0.8"/>
<text x="37.9" y="228.0" font-family="'Liberation Serif','Times New Roman',serif" font-size="10" text-anchor="end" fill="#000" class="t">1.5</text>
<line x1="40.0" y1="246.9" x2="44.0" y2="246.9" stroke="#000" stroke-width="0.8"/>
<text x="37.9" y="250.3" font-family="'Liberation Serif','Times New Roman',serif" font-size="10" text-anchor="end" fill="#000" class="t">0</text>
<text transform="translate(14.7,165.2) rotate(-90)" font-family="'Liberation Serif','Times New Roman',serif" font-size="9.8" textLength="60" lengthAdjust="spacingAndGlyphs" fill="#000" class="t">10<tspan dy="-3.8" font-size="6.8">15</tspan><tspan dy="3.8"> molec/cm</tspan><tspan dy="-3.8" font-size="6.8">2</tspan></text>
<g clip-path="url(#cb)" shape-rendering="crispEdges">
<rect x="300.0" y="24.0" width="20.3" height="4.3" fill="#f6dcd5"/>
<rect x="320.0" y="24.0" width="8.3" height="4.3" fill="#efab96"/>
<rect x="328.0" y="24.0" width="16.3" height="4.3" fill="#f6dcd5"/>
<rect x="344.0" y="24.0" width="12.3" height="4.3" fill="#d5dbde"/>
<rect x="356.0" y="24.0" width="40.3" height="4.3" fill="#f6dcd5"/>
<rect x="300.0" y="28.0" width="20.3" height="4.3" fill="#fbeeea"/>
<rect x="320.0" y="28.0" width="4.3" height="4.3" fill="#f6dcd5"/>
<rect x="324.0" y="28.0" width="4.3" height="4.3" fill="#efab96"/>
<rect x="328.0" y="28.0" width="4.3" height="4.3" fill="#f6dcd5"/>
<rect x="332.0" y="28.0" width="4.3" height="4.3" fill="#fbeeea"/>
<rect x="340.0" y="28.0" width="16.3" height="4.3" fill="#d5dbde"/>
<rect x="356.0" y="28.0" width="16.3" height="4.3" fill="#f6dcd5"/>
<rect x="372.0" y="28.0" width="12.3" height="4.3" fill="#d5dbde"/>
<rect x="384.0" y="28.0" width="12.3" height="4.3" fill="#f6dcd5"/>
<rect x="300.0" y="32.0" width="8.3" height="4.3" fill="#fbeeea"/>
<rect x="324.0" y="32.0" width="8.3" height="4.3" fill="#d5dbde"/>
<rect x="340.0" y="32.0" width="16.3" height="4.3" fill="#f6dcd5"/>
<rect x="356.0" y="32.0" width="32.3" height="4.3" fill="#d5dbde"/>
<rect x="388.0" y="32.0" width="8.3" height="4.3" fill="#f6dcd5"/>
<rect x="300.0" y="36.0" width="4.3" height="4.3" fill="#fbeeea"/>
<rect x="324.0" y="36.0" width="4.3" height="4.3" fill="#d5dbde"/>
<rect x="340.0" y="36.0" width="48.3" height="4.3" fill="#d5dbde"/>
<rect x="388.0" y="36.0" width="8.3" height="4.3" fill="#f6dcd5"/>
<rect x="304.0" y="40.0" width="4.3" height="4.3" fill="#f6dcd5"/>
<rect x="316.0" y="40.0" width="8.3" height="4.3" fill="#d5dbde"/>
<rect x="344.0" y="40.0" width="44.3" height="4.3" fill="#d5dbde"/>
<rect x="388.0" y="40.0" width="8.3" height="4.3" fill="#f6dcd5"/>
<rect x="316.0" y="44.0" width="8.3" height="4.3" fill="#d5dbde"/>
<rect x="340.0" y="44.0" width="56.3" height="4.3" fill="#d5dbde"/>
<rect x="304.0" y="48.0" width="4.3" height="4.3" fill="#fbeeea"/>
<rect x="328.0" y="48.0" width="4.3" height="4.3" fill="#d5dbde"/>
<rect x="340.0" y="48.0" width="4.3" height="4.3" fill="#f6dcd5"/>
<rect x="344.0" y="48.0" width="52.3" height="4.3" fill="#d5dbde"/>
<rect x="340.0" y="52.0" width="8.3" height="4.3" fill="#f6dcd5"/>
<rect x="348.0" y="52.0" width="48.3" height="4.3" fill="#d5dbde"/>
<rect x="320.0" y="56.0" width="20.3" height="4.3" fill="#d5dbde"/>
<rect x="344.0" y="56.0" width="8.3" height="4.3" fill="#f6dcd5"/>
<rect x="352.0" y="56.0" width="44.3" height="4.3" fill="#d5dbde"/>
<rect x="312.0" y="60.0" width="8.3" height="4.3" fill="#fbeeea"/>
<rect x="324.0" y="60.0" width="20.3" height="4.3" fill="#d5dbde"/>
<rect x="344.0" y="60.0" width="8.3" height="4.3" fill="#f6dcd5"/>
<rect x="352.0" y="60.0" width="44.3" height="4.3" fill="#d5dbde"/>
<rect x="324.0" y="64.0" width="4.3" height="4.3" fill="#d5dbde"/>
<rect x="328.0" y="64.0" width="4.3" height="4.3" fill="#f6dcd5"/>
<rect x="332.0" y="64.0" width="8.3" height="4.3" fill="#efab96"/>
<rect x="340.0" y="64.0" width="12.3" height="4.3" fill="#f6dcd5"/>
<rect x="352.0" y="64.0" width="44.3" height="4.3" fill="#d5dbde"/>
<rect x="324.0" y="68.0" width="4.3" height="4.3" fill="#d5dbde"/>
<rect x="328.0" y="68.0" width="16.3" height="4.3" fill="#f6dcd5"/>
<rect x="344.0" y="68.0" width="4.3" height="4.3" fill="#efab96"/>
<rect x="348.0" y="68.0" width="4.3" height="4.3" fill="#f6dcd5"/>
<rect x="352.0" y="68.0" width="44.3" height="4.3" fill="#d5dbde"/>
<rect x="336.0" y="72.0" width="12.3" height="4.3" fill="#f6dcd5"/>
<rect x="352.0" y="72.0" width="44.3" height="4.3" fill="#d5dbde"/>
<rect x="340.0" y="76.0" width="16.3" height="4.3" fill="#f6dcd5"/>
<rect x="356.0" y="76.0" width="40.3" height="4.3" fill="#d5dbde"/>
<rect x="340.0" y="80.0" width="12.3" height="4.3" fill="#f6dcd5"/>
<rect x="352.0" y="80.0" width="8.3" height="4.3" fill="#d5dbde"/>
<rect x="360.0" y="80.0" width="4.3" height="4.3" fill="#f6dcd5"/>
<rect x="364.0" y="80.0" width="32.3" height="4.3" fill="#d5dbde"/>
<rect x="344.0" y="84.0" width="8.3" height="4.3" fill="#f6dcd5"/>
<rect x="352.0" y="84.0" width="44.3" height="4.3" fill="#d5dbde"/>
<rect x="340.0" y="88.0" width="12.3" height="4.3" fill="#f6dcd5"/>
<rect x="352.0" y="88.0" width="44.3" height="4.3" fill="#d5dbde"/>
<rect x="340.0" y="92.0" width="8.3" height="4.3" fill="#f6dcd5"/>
<rect x="348.0" y="92.0" width="48.3" height="4.3" fill="#d5dbde"/>
<rect x="332.0" y="96.0" width="12.3" height="4.3" fill="#d5dbde"/>
<rect x="344.0" y="96.0" width="4.3" height="4.3" fill="#f6dcd5"/>
<rect x="348.0" y="96.0" width="48.3" height="4.3" fill="#d5dbde"/>
<rect x="312.0" y="100.0" width="64.3" height="4.3" fill="#d5dbde"/>
<rect x="380.0" y="100.0" width="16.3" height="4.3" fill="#d5dbde"/>
<rect x="304.0" y="104.0" width="92.3" height="4.3" fill="#d5dbde"/>
<rect x="300.0" y="108.0" width="4.3" height="4.3" fill="#d5dbde"/>
<rect x="316.0" y="108.0" width="32.3" height="4.3" fill="#d5dbde"/>
<rect x="360.0" y="108.0" width="36.3" height="4.3" fill="#d5dbde"/>
<rect x="300.0" y="112.0" width="32.3" height="4.3" fill="#d5dbde"/>
<rect x="332.0" y="112.0" width="4.3" height="4.3" fill="#f6dcd5"/>
<rect x="336.0" y="112.0" width="60.3" height="4.3" fill="#d5dbde"/>
<rect x="300.0" y="116.0" width="16.3" height="4.3" fill="#d5dbde"/>
<rect x="316.0" y="116.0" width="4.3" height="4.3" fill="#f6dcd5"/>
<rect x="320.0" y="116.0" width="12.3" height="4.3" fill="#d5dbde"/>
<rect x="332.0" y="116.0" width="4.3" height="4.3" fill="#f6dcd5"/>
<rect x="336.0" y="116.0" width="60.3" height="4.3" fill="#d5dbde"/>
<rect x="308.0" y="120.0" width="88.3" height="4.3" fill="#d5dbde"/>
<rect x="308.0" y="124.0" width="88.3" height="4.3" fill="#d5dbde"/>
</g>
<g clip-path="url(#cb)">
<line x1="305.5" y1="24.3" x2="305.5" y2="127.6" stroke="#999" stroke-opacity="0.45" stroke-width="0.5"/>
<line x1="316.7" y1="24.3" x2="316.7" y2="127.6" stroke="#999" stroke-opacity="0.45" stroke-width="0.5"/>
<line x1="327.9" y1="24.3" x2="327.9" y2="127.6" stroke="#999" stroke-opacity="0.45" stroke-width="0.5"/>
<line x1="339.1" y1="24.3" x2="339.1" y2="127.6" stroke="#999" stroke-opacity="0.45" stroke-width="0.5"/>
<line x1="350.3" y1="24.3" x2="350.3" y2="127.6" stroke="#999" stroke-opacity="0.45" stroke-width="0.5"/>
<line x1="361.5" y1="24.3" x2="361.5" y2="127.6" stroke="#999" stroke-opacity="0.45" stroke-width="0.5"/>
<line x1="372.7" y1="24.3" x2="372.7" y2="127.6" stroke="#999" stroke-opacity="0.45" stroke-width="0.5"/>
<line x1="383.9" y1="24.3" x2="383.9" y2="127.6" stroke="#999" stroke-opacity="0.45" stroke-width="0.5"/>
<line x1="301.8" y1="39.1" x2="391.4" y2="39.1" stroke="#999" stroke-opacity="0.45" stroke-width="0.5"/>
<line x1="301.8" y1="53.8" x2="391.4" y2="53.8" stroke="#999" stroke-opacity="0.45" stroke-width="0.5"/>
<line x1="301.8" y1="68.6" x2="391.4" y2="68.6" stroke="#999" stroke-opacity="0.45" stroke-width="0.5"/>
<line x1="301.8" y1="83.3" x2="391.4" y2="83.3" stroke="#999" stroke-opacity="0.45" stroke-width="0.5"/>
<line x1="301.8" y1="98.1" x2="391.4" y2="98.1" stroke="#999" stroke-opacity="0.45" stroke-width="0.5"/>
<line x1="301.8" y1="112.8" x2="391.4" y2="112.8" stroke="#999" stroke-opacity="0.45" stroke-width="0.5"/>
<line  x1="352.8" y1="63.1" x2="373.3" y2="59.5" stroke="#fff" stroke-width="1.6"/>
<polyline points="323.5,23.6 327.9,24.3 330.9,25.0 333.2,26.1 331.7,29.5 334.7,30.9 338.4,29.8 341.4,27.3 345.1,25.8 349.6,27.6 354.8,28.0 358.9,28.7 357.8,31.7 356.3,32.8 351.1,33.5 345.9,35.4 343.6,37.6 341.0,39.1 338.4,42.0 334.7,45.7 333.2,48.3 336.1,50.1 341.4,52.3 344.4,57.5 345.9,61.2 345.9,64.1 349.6,67.8 353.3,70.8 348.1,70.0 348.8,72.3 353.3,75.2 353.7,76.7 349.6,77.8 345.9,80.0 344.4,81.5 348.1,81.1 351.8,83.3 354.8,84.1" fill="none" stroke="#333" stroke-width="0.6"/>
<polyline points="383.9,23.6 380.9,25.8 385.4,26.1 388.4,28.0 389.9,31.7 385.4,33.2 387.7,36.1 388.4,39.1 387.7,42.0 386.2,45.7 386.9,49.4 389.9,50.9 392.9,49.4" fill="none" stroke="#333" stroke-width="0.6"/>
<polyline points="385.4,59.0 387.7,57.5 390.7,57.9 388.4,59.7 385.4,59.0" fill="none" stroke="#333" stroke-width="0.6"/>
<polyline points="346.6,127.6 344.4,123.9 346.6,120.2 350.3,118.0 353.7,120.2 352.9,123.2 351.1,127.6" fill="none" stroke="#333" stroke-width="0.6"/>
<polyline points="354.8,84.1 353.3,87.0 353.7,90.0 351.1,92.9 351.1,95.9 346.6,98.8 343.6,101.8 341.4,105.5 338.4,109.2 336.1,112.8 336.1,116.5 332.4,118.7 330.9,121.0 328.7,123.2 324.9,124.6 323.5,128.3" fill="none" stroke="#222" stroke-width="1.3" stroke-dasharray="2.2 0.8"/>
<polyline points="354.1,81.9 356.3,83.3 355.6,84.8" fill="none" stroke="#222" stroke-width="1.3" stroke-dasharray="2.2 0.8"/>
<polyline points="366.8,124.6 370.5,125.0 371.2,123.9" fill="none" stroke="#222" stroke-width="1.3" stroke-dasharray="2.2 0.8"/>
<polyline points="378.0,121.7 380.2,122.1" fill="none" stroke="#222" stroke-width="1.3" stroke-dasharray="2.2 0.8"/>
<polyline points="386.2,26.1 385.1,30.2 386.2,33.9" fill="none" stroke="#222" stroke-width="1.3" stroke-dasharray="2.2 0.8"/>
<polyline points="384.3,45.7 383.9,50.1 386.9,52.0" fill="none" stroke="#222" stroke-width="1.3" stroke-dasharray="2.2 0.8"/>
</g>
<rect x="301.8" y="24.3" width="89.6" height="103.3" fill="none" stroke="#1a1a1a" stroke-width="1.15"/>
<text x="306.9" y="36.5" font-family="'Liberation Serif','Times New Roman',serif" font-size="10.3" font-weight="bold" stroke="#fff" stroke-width="1.2" stroke-linejoin="round" fill="#000" style="paint-order:stroke fill">(b)</text>
<text x="307.5" y="18.6" font-family="'Liberation Serif','Times New Roman',serif" font-size="11.5" textLength="78.2" lengthAdjust="spacingAndGlyphs" fill="#000" class="t">diff. 09 April 2022</text>
<g clip-path="url(#cc)" shape-rendering="crispEdges">
<rect x="404.0" y="24.0" width="24.3" height="4.3" fill="#f6dcd5"/>
<rect x="428.0" y="24.0" width="8.3" height="4.3" fill="#efab96"/>
<rect x="436.0" y="24.0" width="12.3" height="4.3" fill="#f6dcd5"/>
<rect x="448.0" y="24.0" width="4.3" height="4.3" fill="#e4734e"/>
<rect x="452.0" y="24.0" width="4.3" height="4.3" fill="#cf3226"/>
<rect x="456.0" y="24.0" width="4.3" height="4.3" fill="#e4734e"/>
<rect x="460.0" y="24.0" width="20.3" height="4.3" fill="#f6dcd5"/>
<rect x="480.0" y="24.0" width="12.3" height="4.3" fill="#d5dbde"/>
<rect x="492.0" y="24.0" width="8.3" height="4.3" fill="#f6dcd5"/>
<rect x="404.0" y="28.0" width="20.3" height="4.3" fill="#fbeeea"/>
<rect x="424.0" y="28.0" width="4.3" height="4.3" fill="#f6dcd5"/>
<rect x="428.0" y="28.0" width="4.3" height="4.3" fill="#efab96"/>
<rect x="432.0" y="28.0" width="12.3" height="4.3" fill="#f6dcd5"/>
<rect x="444.0" y="28.0" width="4.3" height="4.3" fill="#efab96"/>
<rect x="448.0" y="28.0" width="8.3" height="4.3" fill="#e4734e"/>
<rect x="456.0" y="28.0" width="4.3" height="4.3" fill="#efab96"/>
<rect x="460.0" y="28.0" width="4.3" height="4.3" fill="#f6dcd5"/>
<rect x="464.0" y="28.0" width="32.3" height="4.3" fill="#d5dbde"/>
<rect x="496.0" y="28.0" width="4.3" height="4.3" fill="#f6dcd5"/>
<rect x="404.0" y="32.0" width="24.3" height="4.3" fill="#fbeeea"/>
<rect x="428.0" y="32.0" width="12.3" height="4.3" fill="#f6dcd5"/>
<rect x="448.0" y="32.0" width="4.3" height="4.3" fill="#f6dcd5"/>
<rect x="452.0" y="32.0" width="4.3" height="4.3" fill="#efab96"/>
<rect x="456.0" y="32.0" width="4.3" height="4.3" fill="#f6dcd5"/>
<rect x="460.0" y="32.0" width="40.3" height="4.3" fill="#d5dbde"/>
<rect x="404.0" y="36.0" width="8.3" height="4.3" fill="#fbeeea"/>
<rect x="420.0" y="36.0" width="4.3" height="4.3" fill="#fbeeea"/>
<rect x="424.0" y="36.0" width="4.3" height="4.3" fill="#efab96"/>
<rect x="428.0" y="36.0" width="12.3" height="4.3" fill="#fbeeea"/>
<rect x="440.0" y="36.0" width="12.3" height="4.3" fill="#f6dcd5"/>
<rect x="452.0" y="36.0" width="4.3" height="4.3" fill="#fbeeea"/>
<rect x="456.0" y="36.0" width="44.3" height="4.3" fill="#d5dbde"/>
<rect x="404.0" y="40.0" width="8.3" height="4.3" fill="#fbeeea"/>
<rect x="412.0" y="40.0" width="4.3" height="4.3" fill="#efab96"/>
<rect x="420.0" y="40.0" width="20.3" height="4.3" fill="#fbeeea"/>
<rect x="440.0" y="40.0" width="4.3" height="4.3" fill="#efab96"/>
<rect x="444.0" y="40.0" width="4.3" height="4.3" fill="#f6dcd5"/>
<rect x="448.0" y="40.0" width="8.3" height="4.3" fill="#fbeeea"/>
<rect x="456.0" y="40.0" width="44.3" height="4.3" fill="#d5dbde"/>
<rect x="412.0" y="44.0" width="4.3" height="4.3" fill="#fbeeea"/>
<rect x="424.0" y="44.0" width="12.3" height="4.3" fill="#fbeeea"/>
<rect x="436.0" y="44.0" width="20.3" height="4.3" fill="#f6dcd5"/>
<rect x="456.0" y="44.0" width="44.3" height="4.3" fill="#d5dbde"/>
<rect x="408.0" y="48.0" width="4.3" height="4.3" fill="#fbeeea"/>
<rect x="424.0" y="48.0" width="12.3" height="4.3" fill="#fbeeea"/>
<rect x="436.0" y="48.0" width="20.3" height="4.3" fill="#f6dcd5"/>
<rect x="456.0" y="48.0" width="44.3" height="4.3" fill="#d5dbde"/>
<rect x="424.0" y="52.0" width="8.3" height="4.3" fill="#fbeeea"/>
<rect x="432.0" y="52.0" width="28.3" height="4.3" fill="#f6dcd5"/>
<rect x="460.0" y="52.0" width="40.3" height="4.3" fill="#d5dbde"/>
<rect x="420.0" y="56.0" width="8.3" height="4.3" fill="#fbeeea"/>
<rect x="428.0" y="56.0" width="4.3" height="4.3" fill="#f6dcd5"/>
<rect x="432.0" y="56.0" width="12.3" height="4.3" fill="#efab96"/>
<rect x="444.0" y="56.0" width="8.3" height="4.3" fill="#f6dcd5"/>
<rect x="452.0" y="56.0" width="48.3" height="4.3" fill="#d5dbde"/>
<rect x="416.0" y="60.0" width="12.3" height="4.3" fill="#fbeeea"/>
<rect x="428.0" y="60.0" width="4.3" height="4.3" fill="#f6dcd5"/>
<rect x="432.0" y="60.0" width="4.3" height="4.3" fill="#efab96"/>
<rect x="436.0" y="60.0" width="8.3" height="4.3" fill="#d5dbde"/>
<rect x="444.0" y="60.0" width="8.3" height="4.3" fill="#f6dcd5"/>
<rect x="452.0" y="60.0" width="48.3" height="4.3" fill="#d5dbde"/>
<rect x="420.0" y="64.0" width="8.3" height="4.3" fill="#fbeeea"/>
<rect x="428.0" y="64.0" width="4.3" height="4.3" fill="#f6dcd5"/>
<rect x="432.0" y="64.0" width="4.3" height="4.3" fill="#efab96"/>
<rect x="436.0" y="64.0" width="12.3" height="4.3" fill="#d5dbde"/>
<rect x="448.0" y="64.0" width="4.3" height="4.3" fill="#efab96"/>
<rect x="452.0" y="64.0" width="4.3" height="4.3" fill="#f6dcd5"/>
<rect x="456.0" y="64.0" width="44.3" height="4.3" fill="#d5dbde"/>
<rect x="424.0" y="68.0" width="4.3" height="4.3" fill="#fbeeea"/>
<rect x="428.0" y="68.0" width="4.3" height="4.3" fill="#f6dcd5"/>
<rect x="432.0" y="68.0" width="12.3" height="4.3" fill="#d5dbde"/>
<rect x="444.0" y="68.0" width="4.3" height="4.3" fill="#f6dcd5"/>
<rect x="448.0" y="68.0" width="8.3" height="4.3" fill="#efab96"/>
<rect x="456.0" y="68.0" width="44.3" height="4.3" fill="#d5dbde"/>
<rect x="440.0" y="72.0" width="60.3" height="4.3" fill="#d5dbde"/>
<rect x="444.0" y="76.0" width="28.3" height="4.3" fill="#d5dbde"/>
<rect x="472.0" y="76.0" width="8.3" height="4.3" fill="#f6dcd5"/>
<rect x="480.0" y="76.0" width="20.3" height="4.3" fill="#d5dbde"/>
<rect x="444.0" y="80.0" width="4.3" height="4.3" fill="#f6dcd5"/>
<rect x="448.0" y="80.0" width="52.3" height="4.3" fill="#d5dbde"/>
<rect x="448.0" y="84.0" width="8.3" height="4.3" fill="#f6dcd5"/>
<rect x="456.0" y="84.0" width="8.3" height="4.3" fill="#d5dbde"/>
<rect x="464.0" y="84.0" width="20.3" height="4.3" fill="#f6dcd5"/>
<rect x="484.0" y="84.0" width="16.3" height="4.3" fill="#d5dbde"/>
<rect x="444.0" y="88.0" width="48.3" height="4.3" fill="#f6dcd5"/>
<rect x="492.0" y="88.0" width="8.3" height="4.3" fill="#d5dbde"/>
<rect x="444.0" y="92.0" width="48.3" height="4.3" fill="#f6dcd5"/>
<rect x="492.0" y="92.0" width="8.3" height="4.3" fill="#d5dbde"/>
<rect x="436.0" y="96.0" width="12.3" height="4.3" fill="#d5dbde"/>
<rect x="448.0" y="96.0" width="32.3" height="4.3" fill="#f6dcd5"/>
<rect x="484.0" y="96.0" width="8.3" height="4.3" fill="#f6dcd5"/>
<rect x="492.0" y="96.0" width="8.3" height="4.3" fill="#d5dbde"/>
<rect x="416.0" y="100.0" width="28.3" height="4.3" fill="#d5dbde"/>
<rect x="444.0" y="100.0" width="36.3" height="4.3" fill="#f6dcd5"/>
<rect x="484.0" y="100.0" width="16.3" height="4.3" fill="#d5dbde"/>
<rect x="404.0" y="104.0" width="12.3" height="4.3" fill="#f6dcd5"/>
<rect x="416.0" y="104.0" width="32.3" height="4.3" fill="#d5dbde"/>
<rect x="448.0" y="104.0" width="24.3" height="4.3" fill="#f6dcd5"/>
<rect x="472.0" y="104.0" width="28.3" height="4.3" fill="#d5dbde"/>
<rect x="404.0" y="108.0" width="8.3" height="4.3" fill="#f6dcd5"/>
<rect x="424.0" y="108.0" width="12.3" height="4.3" fill="#f6dcd5"/>
<rect x="436.0" y="108.0" width="16.3" height="4.3" fill="#d5dbde"/>
<rect x="464.0" y="108.0" width="8.3" height="4.3" fill="#f6dcd5"/>
<rect x="472.0" y="108.0" width="28.3" height="4.3" fill="#d5dbde"/>
<rect x="404.0" y="112.0" width="32.3" height="4.3" fill="#f6dcd5"/>
<rect x="436.0" y="112.0" width="8.3" height="4.3" fill="#d5dbde"/>
<rect x="444.0" y="112.0" width="4.3" height="4.3" fill="#f6dcd5"/>
<rect x="448.0" y="112.0" width="52.3" height="4.3" fill="#d5dbde"/>
<rect x="404.0" y="116.0" width="28.3" height="4.3" fill="#f6dcd5"/>
<rect x="432.0" y="116.0" width="68.3" height="4.3" fill="#d5dbde"/>
<rect x="412.0" y="120.0" width="20.3" height="4.3" fill="#f6dcd5"/>
<rect x="432.0" y="120.0" width="44.3" height="4.3" fill="#d5dbde"/>
<rect x="476.0" y="120.0" width="24.3" height="4.3" fill="#f6dcd5"/>
<rect x="412.0" y="124.0" width="16.3" height="4.3" fill="#f6dcd5"/>
<rect x="428.0" y="124.0" width="44.3" height="4.3" fill="#d5dbde"/>
<rect x="472.0" y="124.0" width="20.3" height="4.3" fill="#f6dcd5"/>
<rect x="492.0" y="124.0" width="8.3" height="4.3" fill="#d5dbde"/>
</g>
<g clip-path="url(#cc)">
<line x1="410.4" y1="24.3" x2="410.4" y2="127.6" stroke="#999" stroke-opacity="0.45" stroke-width="0.5"/>
<line x1="421.6" y1="24.3" x2="421.6" y2="127.6" stroke="#999" stroke-opacity="0.45" stroke-width="0.5"/>
<line x1="432.8" y1="24.3" x2="432.8" y2="127.6" stroke="#999" stroke-opacity="0.45" stroke-width="0.5"/>
<line x1="444.0" y1="24.3" x2="444.0" y2="127.6" stroke="#999" stroke-opacity="0.45" stroke-width="0.5"/>
<line x1="455.2" y1="24.3" x2="455.2" y2="127.6" stroke="#999" stroke-opacity="0.45" stroke-width="0.5"/>
<line x1="466.4" y1="24.3" x2="466.4" y2="127.6" stroke="#999" stroke-opacity="0.45" stroke-width="0.5"/>
<line x1="477.6" y1="24.3" x2="477.6" y2="127.6" stroke="#999" stroke-opacity="0.45" stroke-width="0.5"/>
<line x1="488.8" y1="24.3" x2="488.8" y2="127.6" stroke="#999" stroke-opacity="0.45" stroke-width="0.5"/>
<line x1="406.7" y1="39.1" x2="496.3" y2="39.1" stroke="#999" stroke-opacity="0.45" stroke-width="0.5"/>
<line x1="406.7" y1="53.8" x2="496.3" y2="53.8" stroke="#999" stroke-opacity="0.45" stroke-width="0.5"/>
<line x1="406.7" y1="68.6" x2="496.3" y2="68.6" stroke="#999" stroke-opacity="0.45" stroke-width="0.5"/>
<line x1="406.7" y1="83.3" x2="496.3" y2="83.3" stroke="#999" stroke-opacity="0.45" stroke-width="0.5"/>
<line x1="406.7" y1="98.1" x2="496.3" y2="98.1" stroke="#999" stroke-opacity="0.45" stroke-width="0.5"/>
<line x1="406.7" y1="112.8" x2="496.3" y2="112.8" stroke="#999" stroke-opacity="0.45" stroke-width="0.5"/>
<line  x1="457.7" y1="63.1" x2="478.2" y2="59.5" stroke="#fff" stroke-width="1.6"/>
<polyline points="428.4,23.6 432.8,24.3 435.8,25.0 438.1,26.1 436.6,29.5 439.6,30.9 443.3,29.8 446.3,27.3 450.0,25.8 454.5,27.6 459.7,28.0 463.8,28.7 462.7,31.7 461.2,32.8 456.0,33.5 450.8,35.4 448.5,37.6 445.9,39.1 443.3,42.0 439.6,45.7 438.1,48.3 441.0,50.1 446.3,52.3 449.3,57.5 450.8,61.2 450.8,64.1 454.5,67.8 458.2,70.8 453.0,70.0 453.7,72.3 458.2,75.2 458.6,76.7 454.5,77.8 450.8,80.0 449.3,81.5 453.0,81.1 456.7,83.3 459.7,84.1" fill="none" stroke="#333" stroke-width="0.6"/>
<polyline points="488.8,23.6 485.8,25.8 490.3,26.1 493.3,28.0 494.8,31.7 490.3,33.2 492.6,36.1 493.3,39.1 492.6,42.0 491.1,45.7 491.8,49.4 494.8,50.9 497.8,49.4" fill="none" stroke="#333" stroke-width="0.6"/>
<polyline points="490.3,59.0 492.6,57.5 495.6,57.9 493.3,59.7 490.3,59.0" fill="none" stroke="#333" stroke-width="0.6"/>
<polyline points="451.5,127.6 449.3,123.9 451.5,120.2 455.2,118.0 458.6,120.2 457.8,123.2 456.0,127.6" fill="none" stroke="#333" stroke-width="0.6"/>
<polyline points="459.7,84.1 458.2,87.0 458.6,90.0 456.0,92.9 456.0,95.9 451.5,98.8 448.5,101.8 446.3,105.5 443.3,109.2 441.0,112.8 441.0,116.5 437.3,118.7 435.8,121.0 433.6,123.2 429.8,124.6 428.4,128.3" fill="none" stroke="#222" stroke-width="1.3" stroke-dasharray="2.2 0.8"/>
<polyline points="459.0,81.9 461.2,83.3 460.5,84.8" fill="none" stroke="#222" stroke-width="1.3" stroke-dasharray="2.2 0.8"/>
<polyline points="471.7,124.6 475.4,125.0 476.1,123.9" fill="none" stroke="#222" stroke-width="1.3" stroke-dasharray="2.2 0.8"/>
<polyline points="482.9,121.7 485.1,122.1" fill="none" stroke="#222" stroke-width="1.3" stroke-dasharray="2.2 0.8"/>
<polyline points="491.1,26.1 490.0,30.2 491.1,33.9" fill="none" stroke="#222" stroke-width="1.3" stroke-dasharray="2.2 0.8"/>
<polyline points="489.2,45.7 488.8,50.1 491.8,52.0" fill="none" stroke="#222" stroke-width="1.3" stroke-dasharray="2.2 0.8"/>
</g>
<rect x="406.7" y="24.3" width="89.6" height="103.3" fill="none" stroke="#1a1a1a" stroke-width="1.15"/>
<text x="411.8" y="36.5" font-family="'Liberation Serif','Times New Roman',serif" font-size="10.3" font-weight="bold" stroke="#fff" stroke-width="1.2" stroke-linejoin="round" fill="#000" style="paint-order:stroke fill">(c)</text>
<text x="412.4" y="18.6" font-family="'Liberation Serif','Times New Roman',serif" font-size="11.5" textLength="78.2" lengthAdjust="spacingAndGlyphs" fill="#000" class="t">diff. 14 April 2022</text>
<g clip-path="url(#cd)" shape-rendering="crispEdges">
<rect x="300.0" y="142.0" width="28.3" height="4.3" fill="#f6dcd5"/>
<rect x="328.0" y="142.0" width="28.3" height="4.3" fill="#d5dbde"/>
<rect x="356.0" y="142.0" width="40.3" height="4.3" fill="#f6dcd5"/>
<rect x="300.0" y="146.0" width="28.3" height="4.3" fill="#f6dcd5"/>
<rect x="328.0" y="146.0" width="32.3" height="4.3" fill="#d5dbde"/>
<rect x="360.0" y="146.0" width="36.3" height="4.3" fill="#f6dcd5"/>
<rect x="300.0" y="150.0" width="24.3" height="4.3" fill="#f6dcd5"/>
<rect x="324.0" y="150.0" width="12.3" height="4.3" fill="#d5dbde"/>
<rect x="344.0" y="150.0" width="12.3" height="4.3" fill="#d5dbde"/>
<rect x="356.0" y="150.0" width="40.3" height="4.3" fill="#f6dcd5"/>
<rect x="300.0" y="154.0" width="8.3" height="4.3" fill="#f6dcd5"/>
<rect x="316.0" y="154.0" width="8.3" height="4.3" fill="#f6dcd5"/>
<rect x="324.0" y="154.0" width="8.3" height="4.3" fill="#d5dbde"/>
<rect x="336.0" y="154.0" width="4.3" height="4.3" fill="#d5dbde"/>
<rect x="340.0" y="154.0" width="24.3" height="4.3" fill="#f6dcd5"/>
<rect x="364.0" y="154.0" width="4.3" height="4.3" fill="#efab96"/>
<rect x="368.0" y="154.0" width="28.3" height="4.3" fill="#f6dcd5"/>
<rect x="300.0" y="158.0" width="4.3" height="4.3" fill="#d5dbde"/>
<rect x="316.0" y="158.0" width="8.3" height="4.3" fill="#d5dbde"/>
<rect x="328.0" y="158.0" width="8.3" height="4.3" fill="#f6dcd5"/>
<rect x="340.0" y="158.0" width="12.3" height="4.3" fill="#d5dbde"/>
<rect x="352.0" y="158.0" width="44.3" height="4.3" fill="#f6dcd5"/>
<rect x="316.0" y="162.0" width="8.3" height="4.3" fill="#d5dbde"/>
<rect x="340.0" y="162.0" width="12.3" height="4.3" fill="#d5dbde"/>
<rect x="352.0" y="162.0" width="44.3" height="4.3" fill="#f6dcd5"/>
<rect x="328.0" y="166.0" width="8.3" height="4.3" fill="#f6dcd5"/>
<rect x="340.0" y="166.0" width="12.3" height="4.3" fill="#d5dbde"/>
<rect x="352.0" y="166.0" width="44.3" height="4.3" fill="#f6dcd5"/>
<rect x="340.0" y="170.0" width="4.3" height="4.3" fill="#f6dcd5"/>
<rect x="344.0" y="170.0" width="16.3" height="4.3" fill="#d5dbde"/>
<rect x="360.0" y="170.0" width="36.3" height="4.3" fill="#f6dcd5"/>
<rect x="320.0" y="174.0" width="4.3" height="4.3" fill="#d5dbde"/>
<rect x="324.0" y="174.0" width="8.3" height="4.3" fill="#f6dcd5"/>
<rect x="332.0" y="174.0" width="12.3" height="4.3" fill="#d5dbde"/>
<rect x="344.0" y="174.0" width="4.3" height="4.3" fill="#f6dcd5"/>
<rect x="348.0" y="174.0" width="16.3" height="4.3" fill="#d5dbde"/>
<rect x="364.0" y="174.0" width="32.3" height="4.3" fill="#f6dcd5"/>
<rect x="312.0" y="178.0" width="8.3" height="4.3" fill="#d5dbde"/>
<rect x="324.0" y="178.0" width="12.3" height="4.3" fill="#d5dbde"/>
<rect x="336.0" y="178.0" width="12.3" height="4.3" fill="#f6dcd5"/>
<rect x="348.0" y="178.0" width="8.3" height="4.3" fill="#d5dbde"/>
<rect x="356.0" y="178.0" width="40.3" height="4.3" fill="#f6dcd5"/>
<rect x="320.0" y="182.0" width="8.3" height="4.3" fill="#d5dbde"/>
<rect x="328.0" y="182.0" width="16.3" height="4.3" fill="#f6dcd5"/>
<rect x="344.0" y="182.0" width="4.3" height="4.3" fill="#efab96"/>
<rect x="348.0" y="182.0" width="4.3" height="4.3" fill="#d5dbde"/>
<rect x="352.0" y="182.0" width="44.3" height="4.3" fill="#f6dcd5"/>
<rect x="320.0" y="186.0" width="8.3" height="4.3" fill="#d5dbde"/>
<rect x="328.0" y="186.0" width="20.3" height="4.3" fill="#f6dcd5"/>
<rect x="348.0" y="186.0" width="4.3" height="4.3" fill="#efab96"/>
<rect x="352.0" y="186.0" width="44.3" height="4.3" fill="#f6dcd5"/>
<rect x="336.0" y="190.0" width="60.3" height="4.3" fill="#f6dcd5"/>
<rect x="340.0" y="194.0" width="16.3" height="4.3" fill="#d5dbde"/>
<rect x="356.0" y="194.0" width="36.3" height="4.3" fill="#f6dcd5"/>
<rect x="392.0" y="194.0" width="4.3" height="4.3" fill="#d5dbde"/>
<rect x="340.0" y="198.0" width="12.3" height="4.3" fill="#d5dbde"/>
<rect x="352.0" y="198.0" width="44.3" height="4.3" fill="#f6dcd5"/>
<rect x="340.0" y="202.0" width="8.3" height="4.3" fill="#d5dbde"/>
<rect x="348.0" y="202.0" width="48.3" height="4.3" fill="#f6dcd5"/>
<rect x="340.0" y="206.0" width="16.3" height="4.3" fill="#f6dcd5"/>
<rect x="356.0" y="206.0" width="4.3" height="4.3" fill="#d5dbde"/>
<rect x="360.0" y="206.0" width="36.3" height="4.3" fill="#f6dcd5"/>
<rect x="336.0" y="210.0" width="60.3" height="4.3" fill="#f6dcd5"/>
<rect x="324.0" y="214.0" width="48.3" height="4.3" fill="#f6dcd5"/>
<rect x="372.0" y="214.0" width="8.3" height="4.3" fill="#efab96"/>
<rect x="380.0" y="214.0" width="16.3" height="4.3" fill="#f6dcd5"/>
<rect x="312.0" y="218.0" width="16.3" height="4.3" fill="#f6dcd5"/>
<rect x="328.0" y="218.0" width="4.3" height="4.3" fill="#efab96"/>
<rect x="332.0" y="218.0" width="44.3" height="4.3" fill="#f6dcd5"/>
<rect x="376.0" y="218.0" width="4.3" height="4.3" fill="#efab96"/>
<rect x="380.0" y="218.0" width="16.3" height="4.3" fill="#f6dcd5"/>
<rect x="304.0" y="222.0" width="92.3" height="4.3" fill="#f6dcd5"/>
<rect x="300.0" y="226.0" width="4.3" height="4.3" fill="#d5dbde"/>
<rect x="316.0" y="226.0" width="32.3" height="4.3" fill="#f6dcd5"/>
<rect x="360.0" y="226.0" width="36.3" height="4.3" fill="#f6dcd5"/>
<rect x="300.0" y="230.0" width="8.3" height="4.3" fill="#d5dbde"/>
<rect x="308.0" y="230.0" width="88.3" height="4.3" fill="#f6dcd5"/>
<rect x="300.0" y="234.0" width="8.3" height="4.3" fill="#d5dbde"/>
<rect x="308.0" y="234.0" width="88.3" height="4.3" fill="#f6dcd5"/>
<rect x="308.0" y="238.0" width="88.3" height="4.3" fill="#f6dcd5"/>
<rect x="308.0" y="242.0" width="88.3" height="4.3" fill="#f6dcd5"/>
</g>
<g clip-path="url(#cd)">
<line x1="305.5" y1="142.3" x2="305.5" y2="246.7" stroke="#999" stroke-opacity="0.45" stroke-width="0.5"/>
<line x1="316.7" y1="142.3" x2="316.7" y2="246.7" stroke="#999" stroke-opacity="0.45" stroke-width="0.5"/>
<line x1="327.9" y1="142.3" x2="327.9" y2="246.7" stroke="#999" stroke-opacity="0.45" stroke-width="0.5"/>
<line x1="339.1" y1="142.3" x2="339.1" y2="246.7" stroke="#999" stroke-opacity="0.45" stroke-width="0.5"/>
<line x1="350.3" y1="142.3" x2="350.3" y2="246.7" stroke="#999" stroke-opacity="0.45" stroke-width="0.5"/>
<line x1="361.5" y1="142.3" x2="361.5" y2="246.7" stroke="#999" stroke-opacity="0.45" stroke-width="0.5"/>
<line x1="372.7" y1="142.3" x2="372.7" y2="246.7" stroke="#999" stroke-opacity="0.45" stroke-width="0.5"/>
<line x1="383.9" y1="142.3" x2="383.9" y2="246.7" stroke="#999" stroke-opacity="0.45" stroke-width="0.5"/>
<line x1="301.8" y1="157.2" x2="391.4" y2="157.2" stroke="#999" stroke-opacity="0.45" stroke-width="0.5"/>
<line x1="301.8" y1="172.1" x2="391.4" y2="172.1" stroke="#999" stroke-opacity="0.45" stroke-width="0.5"/>
<line x1="301.8" y1="187.0" x2="391.4" y2="187.0" stroke="#999" stroke-opacity="0.45" stroke-width="0.5"/>
<line x1="301.8" y1="202.0" x2="391.4" y2="202.0" stroke="#999" stroke-opacity="0.45" stroke-width="0.5"/>
<line x1="301.8" y1="216.9" x2="391.4" y2="216.9" stroke="#999" stroke-opacity="0.45" stroke-width="0.5"/>
<line x1="301.8" y1="231.8" x2="391.4" y2="231.8" stroke="#999" stroke-opacity="0.45" stroke-width="0.5"/>
<line  x1="352.8" y1="181.1" x2="373.3" y2="177.5" stroke="#fff" stroke-width="1.6"/>
<polyline points="323.5,141.6 327.9,142.3 330.9,143.0 333.2,144.2 331.7,147.5 334.7,149.0 338.4,147.9 341.4,145.3 345.1,143.8 349.6,145.7 354.8,146.0 358.9,146.8 357.8,149.8 356.3,150.9 351.1,151.6 345.9,153.5 343.6,155.7 341.0,157.2 338.4,160.2 334.7,163.9 333.2,166.5 336.1,168.4 341.4,170.6 344.4,175.9 345.9,179.6 345.9,182.6 349.6,186.3 353.3,189.3 348.1,188.5 348.8,190.8 353.3,193.8 353.7,195.2 349.6,196.4 345.9,198.6 344.4,200.1 348.1,199.7 351.8,202.0 354.8,202.7" fill="none" stroke="#333" stroke-width="0.6"/>
<polyline points="383.9,141.6 380.9,143.8 385.4,144.2 388.4,146.0 389.9,149.8 385.4,151.2 387.7,154.2 388.4,157.2 387.7,160.2 386.2,163.9 386.9,167.7 389.9,169.1 392.9,167.7" fill="none" stroke="#333" stroke-width="0.6"/>
<polyline points="385.4,177.3 387.7,175.9 390.7,176.2 388.4,178.1 385.4,177.3" fill="none" stroke="#333" stroke-width="0.6"/>
<polyline points="346.6,246.7 344.4,243.0 346.6,239.2 350.3,237.0 353.7,239.2 352.9,242.2 351.1,246.7" fill="none" stroke="#333" stroke-width="0.6"/>
<polyline points="354.8,202.7 353.3,205.7 353.7,208.7 351.1,211.7 351.1,214.6 346.6,217.6 343.6,220.6 341.4,224.3 338.4,228.1 336.1,231.8 336.1,235.5 332.4,237.8 330.9,240.0 328.7,242.2 324.9,243.7 323.5,247.4" fill="none" stroke="#222" stroke-width="1.3" stroke-dasharray="2.2 0.8"/>
<polyline points="354.1,200.5 356.3,202.0 355.6,203.4" fill="none" stroke="#222" stroke-width="1.3" stroke-dasharray="2.2 0.8"/>
<polyline points="366.8,243.7 370.5,244.1 371.2,243.0" fill="none" stroke="#222" stroke-width="1.3" stroke-dasharray="2.2 0.8"/>
<polyline points="378.0,240.7 380.2,241.1" fill="none" stroke="#222" stroke-width="1.3" stroke-dasharray="2.2 0.8"/>
<polyline points="386.2,144.2 385.1,148.3 386.2,152.0" fill="none" stroke="#222" stroke-width="1.3" stroke-dasharray="2.2 0.8"/>
<polyline points="384.3,163.9 383.9,168.4 386.9,170.3" fill="none" stroke="#222" stroke-width="1.3" stroke-dasharray="2.2 0.8"/>
</g>
<rect x="301.8" y="142.3" width="89.6" height="104.4" fill="none" stroke="#1a1a1a" stroke-width="1.15"/>
<text x="306.9" y="154.5" font-family="'Liberation Serif','Times New Roman',serif" font-size="10.3" font-weight="bold" stroke="#fff" stroke-width="1.2" stroke-linejoin="round" fill="#000" style="paint-order:stroke fill">(d)</text>
<text x="307.5" y="136.6" font-family="'Liberation Serif','Times New Roman',serif" font-size="11.5" textLength="78.2" lengthAdjust="spacingAndGlyphs" fill="#000" class="t">diff. 19 April 2022</text>
<g clip-path="url(#ce)" shape-rendering="crispEdges">
<rect x="404.0" y="142.0" width="44.3" height="4.3" fill="#d5dbde"/>
<rect x="448.0" y="142.0" width="4.3" height="4.3" fill="#7fb6cb"/>
<rect x="452.0" y="142.0" width="8.3" height="4.3" fill="#d5dbde"/>
<rect x="460.0" y="142.0" width="40.3" height="4.3" fill="#f6dcd5"/>
<rect x="404.0" y="146.0" width="32.3" height="4.3" fill="#d5dbde"/>
<rect x="444.0" y="146.0" width="16.3" height="4.3" fill="#d5dbde"/>
<rect x="460.0" y="146.0" width="40.3" height="4.3" fill="#f6dcd5"/>
<rect x="404.0" y="150.0" width="8.3" height="4.3" fill="#d5dbde"/>
<rect x="424.0" y="150.0" width="12.3" height="4.3" fill="#d5dbde"/>
<rect x="448.0" y="150.0" width="8.3" height="4.3" fill="#f6dcd5"/>
<rect x="456.0" y="150.0" width="24.3" height="4.3" fill="#d5dbde"/>
<rect x="480.0" y="150.0" width="20.3" height="4.3" fill="#f6dcd5"/>
<rect x="404.0" y="154.0" width="8.3" height="4.3" fill="#d5dbde"/>
<rect x="416.0" y="154.0" width="8.3" height="4.3" fill="#d5dbde"/>
<rect x="444.0" y="154.0" width="16.3" height="4.3" fill="#f6dcd5"/>
<rect x="460.0" y="154.0" width="16.3" height="4.3" fill="#d5dbde"/>
<rect x="476.0" y="154.0" width="24.3" height="4.3" fill="#f6dcd5"/>
<rect x="404.0" y="158.0" width="4.3" height="4.3" fill="#d5dbde"/>
<rect x="420.0" y="158.0" width="4.3" height="4.3" fill="#d5dbde"/>
<rect x="440.0" y="158.0" width="20.3" height="4.3" fill="#f6dcd5"/>
<rect x="460.0" y="158.0" width="4.3" height="4.3" fill="#d5dbde"/>
<rect x="464.0" y="158.0" width="16.3" height="4.3" fill="#f6dcd5"/>
<rect x="480.0" y="158.0" width="8.3" height="4.3" fill="#efab96"/>
<rect x="488.0" y="158.0" width="12.3" height="4.3" fill="#f6dcd5"/>
<rect x="408.0" y="162.0" width="4.3" height="4.3" fill="#d5dbde"/>
<rect x="436.0" y="162.0" width="8.3" height="4.3" fill="#d5dbde"/>
<rect x="444.0" y="162.0" width="56.3" height="4.3" fill="#f6dcd5"/>
<rect x="436.0" y="166.0" width="12.3" height="4.3" fill="#d5dbde"/>
<rect x="448.0" y="166.0" width="24.3" height="4.3" fill="#f6dcd5"/>
<rect x="472.0" y="166.0" width="8.3" height="4.3" fill="#efab96"/>
<rect x="480.0" y="166.0" width="20.3" height="4.3" fill="#f6dcd5"/>
<rect x="436.0" y="170.0" width="8.3" height="4.3" fill="#d5dbde"/>
<rect x="444.0" y="170.0" width="12.3" height="4.3" fill="#f6dcd5"/>
<rect x="456.0" y="170.0" width="12.3" height="4.3" fill="#efab96"/>
<rect x="468.0" y="170.0" width="8.3" height="4.3" fill="#e4734e"/>
<rect x="476.0" y="170.0" width="8.3" height="4.3" fill="#efab96"/>
<rect x="484.0" y="170.0" width="16.3" height="4.3" fill="#f6dcd5"/>
<rect x="436.0" y="174.0" width="4.3" height="4.3" fill="#f6dcd5"/>
<rect x="440.0" y="174.0" width="4.3" height="4.3" fill="#d5dbde"/>
<rect x="444.0" y="174.0" width="8.3" height="4.3" fill="#f6dcd5"/>
<rect x="452.0" y="174.0" width="12.3" height="4.3" fill="#efab96"/>
<rect x="464.0" y="174.0" width="4.3" height="4.3" fill="#e4734e"/>
<rect x="468.0" y="174.0" width="4.3" height="4.3" fill="#cf3226"/>
<rect x="472.0" y="174.0" width="4.3" height="4.3" fill="#e4734e"/>
<rect x="476.0" y="174.0" width="8.3" height="4.3" fill="#efab96"/>
<rect x="484.0" y="174.0" width="16.3" height="4.3" fill="#f6dcd5"/>
<rect x="436.0" y="178.0" width="8.3" height="4.3" fill="#d5dbde"/>
<rect x="444.0" y="178.0" width="8.3" height="4.3" fill="#f6dcd5"/>
<rect x="452.0" y="178.0" width="28.3" height="4.3" fill="#efab96"/>
<rect x="480.0" y="178.0" width="20.3" height="4.3" fill="#f6dcd5"/>
<rect x="436.0" y="182.0" width="4.3" height="4.3" fill="#f6dcd5"/>
<rect x="440.0" y="182.0" width="28.3" height="4.3" fill="#efab96"/>
<rect x="468.0" y="182.0" width="32.3" height="4.3" fill="#f6dcd5"/>
<rect x="424.0" y="186.0" width="12.3" height="4.3" fill="#f6dcd5"/>
<rect x="436.0" y="186.0" width="8.3" height="4.3" fill="#efab96"/>
<rect x="444.0" y="186.0" width="4.3" height="4.3" fill="#e4734e"/>
<rect x="448.0" y="186.0" width="4.3" height="4.3" fill="#efab96"/>
<rect x="452.0" y="186.0" width="4.3" height="4.3" fill="#cf3226"/>
<rect x="456.0" y="186.0" width="4.3" height="4.3" fill="#efab96"/>
<rect x="460.0" y="186.0" width="40.3" height="4.3" fill="#f6dcd5"/>
<rect x="432.0" y="190.0" width="8.3" height="4.3" fill="#f6dcd5"/>
<rect x="440.0" y="190.0" width="8.3" height="4.3" fill="#efab96"/>
<rect x="448.0" y="190.0" width="52.3" height="4.3" fill="#f6dcd5"/>
<rect x="432.0" y="194.0" width="16.3" height="4.3" fill="#f6dcd5"/>
<rect x="448.0" y="194.0" width="8.3" height="4.3" fill="#efab96"/>
<rect x="456.0" y="194.0" width="44.3" height="4.3" fill="#f6dcd5"/>
<rect x="444.0" y="198.0" width="56.3" height="4.3" fill="#f6dcd5"/>
<rect x="448.0" y="202.0" width="52.3" height="4.3" fill="#f6dcd5"/>
<rect x="444.0" y="206.0" width="56.3" height="4.3" fill="#f6dcd5"/>
<rect x="440.0" y="210.0" width="60.3" height="4.3" fill="#f6dcd5"/>
<rect x="432.0" y="214.0" width="36.3" height="4.3" fill="#f6dcd5"/>
<rect x="468.0" y="214.0" width="12.3" height="4.3" fill="#d5dbde"/>
<rect x="484.0" y="214.0" width="16.3" height="4.3" fill="#f6dcd5"/>
<rect x="416.0" y="218.0" width="84.3" height="4.3" fill="#f6dcd5"/>
<rect x="404.0" y="222.0" width="96.3" height="4.3" fill="#f6dcd5"/>
<rect x="404.0" y="226.0" width="4.3" height="4.3" fill="#f6dcd5"/>
<rect x="420.0" y="226.0" width="32.3" height="4.3" fill="#f6dcd5"/>
<rect x="464.0" y="226.0" width="36.3" height="4.3" fill="#f6dcd5"/>
<rect x="404.0" y="230.0" width="16.3" height="4.3" fill="#f6dcd5"/>
<rect x="420.0" y="230.0" width="8.3" height="4.3" fill="#d5dbde"/>
<rect x="428.0" y="230.0" width="72.3" height="4.3" fill="#f6dcd5"/>
<rect x="404.0" y="234.0" width="96.3" height="4.3" fill="#f6dcd5"/>
<rect x="412.0" y="238.0" width="88.3" height="4.3" fill="#f6dcd5"/>
<rect x="412.0" y="242.0" width="88.3" height="4.3" fill="#f6dcd5"/>
</g>
<g clip-path="url(#ce)">
<line x1="410.4" y1="142.3" x2="410.4" y2="246.7" stroke="#999" stroke-opacity="0.45" stroke-width="0.5"/>
<line x1="421.6" y1="142.3" x2="421.6" y2="246.7" stroke="#999" stroke-opacity="0.45" stroke-width="0.5"/>
<line x1="432.8" y1="142.3" x2="432.8" y2="246.7" stroke="#999" stroke-opacity="0.45" stroke-width="0.5"/>
<line x1="444.0" y1="142.3" x2="444.0" y2="246.7" stroke="#999" stroke-opacity="0.45" stroke-width="0.5"/>
<line x1="455.2" y1="142.3" x2="455.2" y2="246.7" stroke="#999" stroke-opacity="0.45" stroke-width="0.5"/>
<line x1="466.4" y1="142.3" x2="466.4" y2="246.7" stroke="#999" stroke-opacity="0.45" stroke-width="0.5"/>
<line x1="477.6" y1="142.3" x2="477.6" y2="246.7" stroke="#999" stroke-opacity="0.45" stroke-width="0.5"/>
<line x1="488.8" y1="142.3" x2="488.8" y2="246.7" stroke="#999" stroke-opacity="0.45" stroke-width="0.5"/>
<line x1="406.7" y1="157.2" x2="496.3" y2="157.2" stroke="#999" stroke-opacity="0.45" stroke-width="0.5"/>
<line x1="406.7" y1="172.1" x2="496.3" y2="172.1" stroke="#999" stroke-opacity="0.45" stroke-width="0.5"/>
<line x1="406.7" y1="187.0" x2="496.3" y2="187.0" stroke="#999" stroke-opacity="0.45" stroke-width="0.5"/>
<line x1="406.7" y1="202.0" x2="496.3" y2="202.0" stroke="#999" stroke-opacity="0.45" stroke-width="0.5"/>
<line x1="406.7" y1="216.9" x2="496.3" y2="216.9" stroke="#999" stroke-opacity="0.45" stroke-width="0.5"/>
<line x1="406.7" y1="231.8" x2="496.3" y2="231.8" stroke="#999" stroke-opacity="0.45" stroke-width="0.5"/>
<line  x1="457.7" y1="181.1" x2="478.2" y2="177.5" stroke="#fff" stroke-width="1.6"/>
<polyline points="428.4,141.6 432.8,142.3 435.8,143.0 438.1,144.2 436.6,147.5 439.6,149.0 443.3,147.9 446.3,145.3 450.0,143.8 454.5,145.7 459.7,146.0 463.8,146.8 462.7,149.8 461.2,150.9 456.0,151.6 450.8,153.5 448.5,155.7 445.9,157.2 443.3,160.2 439.6,163.9 438.1,166.5 441.0,168.4 446.3,170.6 449.3,175.9 450.8,179.6 450.8,182.6 454.5,186.3 458.2,189.3 453.0,188.5 453.7,190.8 458.2,193.8 458.6,195.2 454.5,196.4 450.8,198.6 449.3,200.1 453.0,199.7 456.7,202.0 459.7,202.7" fill="none" stroke="#333" stroke-width="0.6"/>
<polyline points="488.8,141.6 485.8,143.8 490.3,144.2 493.3,146.0 494.8,149.8 490.3,151.2 492.6,154.2 493.3,157.2 492.6,160.2 491.1,163.9 491.8,167.7 494.8,169.1 497.8,167.7" fill="none" stroke="#333" stroke-width="0.6"/>
<polyline points="490.3,177.3 492.6,175.9 495.6,176.2 493.3,178.1 490.3,177.3" fill="none" stroke="#333" stroke-width="0.6"/>
<polyline points="451.5,246.7 449.3,243.0 451.5,239.2 455.2,237.0 458.6,239.2 457.8,242.2 456.0,246.7" fill="none" stroke="#333" stroke-width="0.6"/>
<polyline points="459.7,202.7 458.2,205.7 458.6,208.7 456.0,211.7 456.0,214.6 451.5,217.6 448.5,220.6 446.3,224.3 443.3,228.1 441.0,231.8 441.0,235.5 437.3,237.8 435.8,240.0 433.6,242.2 429.8,243.7 428.4,247.4" fill="none" stroke="#222" stroke-width="1.3" stroke-dasharray="2.2 0.8"/>
<polyline points="459.0,200.5 461.2,202.0 460.5,203.4" fill="none" stroke="#222" stroke-width="1.3" stroke-dasharray="2.2 0.8"/>
<polyline points="471.7,243.7 475.4,244.1 476.1,243.0" fill="none" stroke="#222" stroke-width="1.3" stroke-dasharray="2.2 0.8"/>
<polyline points="482.9,240.7 485.1,241.1" fill="none" stroke="#222" stroke-width="1.3" stroke-dasharray="2.2 0.8"/>
<polyline points="491.1,144.2 490.0,148.3 491.1,152.0" fill="none" stroke="#222" stroke-width="1.3" stroke-dasharray="2.2 0.8"/>
<polyline points="489.2,163.9 488.8,168.4 491.8,170.3" fill="none" stroke="#222" stroke-width="1.3" stroke-dasharray="2.2 0.8"/>
</g>
<rect x="433.3" y="165.0" width="52.4" height="37.0" fill="none" stroke="#000" stroke-width="1.6"/>
<rect x="406.7" y="142.3" width="89.6" height="104.4" fill="none" stroke="#1a1a1a" stroke-width="1.15"/>
<text x="411.8" y="154.5" font-family="'Liberation Serif','Times New Roman',serif" font-size="10.3" font-weight="bold" stroke="#fff" stroke-width="1.2" stroke-linejoin="round" fill="#000" style="paint-order:stroke fill">(e)</text>
<text x="412.4" y="136.6" font-family="'Liberation Serif','Times New Roman',serif" font-size="11.5" textLength="78.2" lengthAdjust="spacingAndGlyphs" fill="#000" class="t">diff. 24 April 2022</text>
<rect x="509.2" y="24.40" width="14.9" height="20.49" fill="#3c0912" shape-rendering="crispEdges"/>
<rect x="509.2" y="44.59" width="14.9" height="20.49" fill="#9a0b2c" shape-rendering="crispEdges"/>
<rect x="509.2" y="64.78" width="14.9" height="20.49" fill="#cf3226" shape-rendering="crispEdges"/>
<rect x="509.2" y="84.97" width="14.9" height="20.49" fill="#e4734e" shape-rendering="crispEdges"/>
<rect x="509.2" y="105.16" width="14.9" height="20.49" fill="#efab96" shape-rendering="crispEdges"/>
<rect x="509.2" y="125.35" width="14.9" height="20.49" fill="#f6dcd5" shape-rendering="crispEdges"/>
<rect x="509.2" y="145.55" width="14.9" height="20.49" fill="#d2d9dc" shape-rendering="crispEdges"/>
<rect x="509.2" y="165.74" width="14.9" height="20.49" fill="#7fb6cb" shape-rendering="crispEdges"/>
<rect x="509.2" y="185.93" width="14.9" height="20.49" fill="#1a8bc4" shape-rendering="crispEdges"/>
<rect x="509.2" y="206.12" width="14.9" height="20.49" fill="#0d5fc4" shape-rendering="crispEdges"/>
<rect x="509.2" y="226.31" width="14.9" height="20.49" fill="#232a8c" shape-rendering="crispEdges"/>
<rect x="509.2" y="24.4" width="14.9" height="222.1" fill="none" stroke="#222" stroke-width="0.5"/>
<line x1="524.1" y1="24.4" x2="527.1" y2="24.4" stroke="#000" stroke-width="0.8"/>
<text x="530.3" y="27.9" font-family="'Liberation Serif','Times New Roman',serif" font-size="10" fill="#000" class="t">36</text>
<line x1="524.1" y1="44.6" x2="527.1" y2="44.6" stroke="#000" stroke-width="0.8"/>
<text x="530.3" y="48.1" font-family="'Liberation Serif','Times New Roman',serif" font-size="10" fill="#000" class="t">30</text>
<line x1="524.1" y1="64.8" x2="527.1" y2="64.8" stroke="#000" stroke-width="0.8"/>
<text x="530.3" y="68.3" font-family="'Liberation Serif','Times New Roman',serif" font-size="10" fill="#000" class="t">24</text>
<line x1="524.1" y1="85.0" x2="527.1" y2="85.0" stroke="#000" stroke-width="0.8"/>
<text x="530.3" y="88.5" font-family="'Liberation Serif','Times New Roman',serif" font-size="10" fill="#000" class="t">18</text>
<line x1="524.1" y1="105.2" x2="527.1" y2="105.2" stroke="#000" stroke-width="0.8"/>
<text x="530.3" y="108.7" font-family="'Liberation Serif','Times New Roman',serif" font-size="10" fill="#000" class="t">12</text>
<line x1="524.1" y1="125.4" x2="527.1" y2="125.4" stroke="#000" stroke-width="0.8"/>
<text x="530.3" y="128.9" font-family="'Liberation Serif','Times New Roman',serif" font-size="10" fill="#000" class="t">6</text>
<line x1="524.1" y1="145.5" x2="527.1" y2="145.5" stroke="#000" stroke-width="0.8"/>
<text x="530.3" y="149.0" font-family="'Liberation Serif','Times New Roman',serif" font-size="10" fill="#000" class="t">0</text>
<line x1="524.1" y1="165.7" x2="527.1" y2="165.7" stroke="#000" stroke-width="0.8"/>
<text x="530.3" y="169.2" font-family="'Liberation Serif','Times New Roman',serif" font-size="10" fill="#000" class="t">−6</text>
<line x1="524.1" y1="185.9" x2="527.1" y2="185.9" stroke="#000" stroke-width="0.8"/>
<text x="530.3" y="189.4" font-family="'Liberation Serif','Times New Roman',serif" font-size="10" fill="#000" class="t">−12</text>
<line x1="524.1" y1="206.1" x2="527.1" y2="206.1" stroke="#000" stroke-width="0.8"/>
<text x="530.3" y="209.6" font-family="'Liberation Serif','Times New Roman',serif" font-size="10" fill="#000" class="t">−18</text>
<line x1="524.1" y1="226.3" x2="527.1" y2="226.3" stroke="#000" stroke-width="0.8"/>
<text x="530.3" y="229.8" font-family="'Liberation Serif','Times New Roman',serif" font-size="10" fill="#000" class="t">−24</text>
<line x1="524.1" y1="246.5" x2="527.1" y2="246.5" stroke="#000" stroke-width="0.8"/>
<text x="530.3" y="250.0" font-family="'Liberation Serif','Times New Roman',serif" font-size="10" fill="#000" class="t">−30</text>
</svg>
</body></html>
